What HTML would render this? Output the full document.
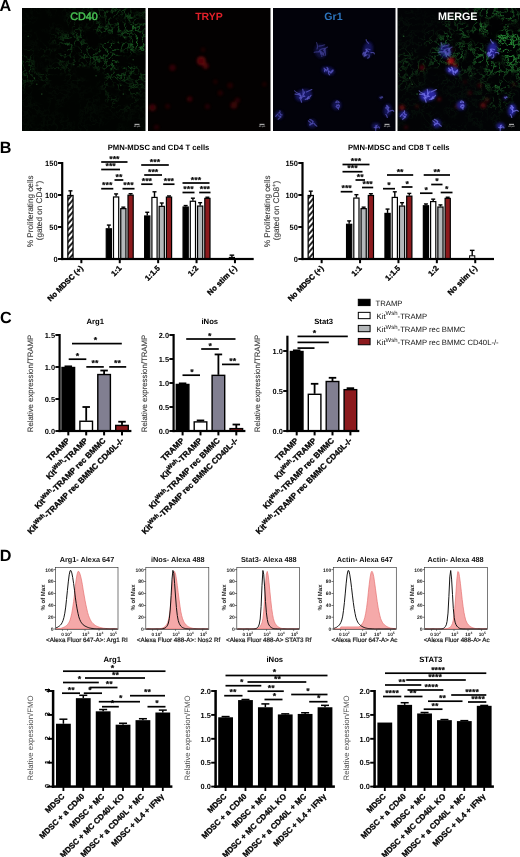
<!DOCTYPE html>
<html lang="en"><head><meta charset="utf-8"><title>Figure</title>
<style>html,body{margin:0;padding:0;background:#fff}svg{display:block}</style></head>
<body>
<svg width="520" height="857" viewBox="0 0 520 857" font-family='"Liberation Sans", sans-serif' text-rendering="geometricPrecision">
<rect width="520" height="857" fill="#fff"/>
<defs><pattern id="hatch" patternUnits="userSpaceOnUse" width="3.9" height="3.9" patternTransform="rotate(-50)"><rect width="3.9" height="3.9" fill="#fff"/><line x1="0" y1="1" x2="3.9" y2="1" stroke="#000" stroke-width="1.7"/></pattern></defs>
<text x="-0.40" y="11.00" font-size="16.2" font-weight="bold" text-anchor="start" fill="#000">A</text>
<defs>
<filter id="b05" x="-50%" y="-50%" width="200%" height="200%"><feGaussianBlur stdDeviation="0.55"/></filter>
<filter id="b08" x="-50%" y="-50%" width="200%" height="200%"><feGaussianBlur stdDeviation="0.8"/></filter>
<filter id="b1" x="-50%" y="-50%" width="200%" height="200%"><feGaussianBlur stdDeviation="0.9"/></filter>
<filter id="b2" x="-50%" y="-50%" width="200%" height="200%"><feGaussianBlur stdDeviation="1.5"/></filter>
<filter id="b3" x="-50%" y="-50%" width="200%" height="200%"><feGaussianBlur stdDeviation="2.6"/></filter>
<filter id="gnet" x="0" y="0" width="100%" height="100%" color-interpolation-filters="sRGB"><feTurbulence type="fractalNoise" baseFrequency="0.16" numOctaves="3" seed="5"/><feColorMatrix type="matrix" values="1 0 0 0 0  1 0 0 0 0  1 0 0 0 0  0 0 0 0 1" result="n1"/><feComponentTransfer in="n1" result="r1"><feFuncR type="table" tableValues="0 0 0 0 0 0 0 0 0 0.45 1 0.45 0 0 0 0 0 0 0 0 0"/><feFuncG type="table" tableValues="0 0 0 0 0 0 0 0 0 0.45 1 0.45 0 0 0 0 0 0 0 0 0"/><feFuncB type="table" tableValues="0 0 0 0 0 0 0 0 0 0.45 1 0.45 0 0 0 0 0 0 0 0 0"/></feComponentTransfer><feTurbulence type="fractalNoise" baseFrequency="0.06" numOctaves="2" seed="11"/><feColorMatrix type="matrix" values="0 1 0 0 0  0 1 0 0 0  0 1 0 0 0  0 0 0 0 1" result="n2"/><feComponentTransfer in="n2" result="r2"><feFuncR type="table" tableValues="0 0 0 0 0.15 0.7 1 1 1 1 1"/><feFuncG type="table" tableValues="0 0 0 0 0.15 0.7 1 1 1 1 1"/><feFuncB type="table" tableValues="0 0 0 0 0.15 0.7 1 1 1 1 1"/></feComponentTransfer><feComposite in="r1" in2="r2" operator="arithmetic" k1="1" k2="0" k3="0" k4="0" result="m"/><feColorMatrix in="m" type="matrix" values="0.2 0 0 0 0  0.74 0 0 0 0  0.28 0 0 0 0  0 0 0 0 1"/><feGaussianBlur stdDeviation="0.75"/></filter>
<radialGradient id="mg1" cx="0.88" cy="0.3" r="0.42"><stop offset="0" stop-color="#fff" stop-opacity="0.85"/><stop offset="0.5" stop-color="#fff" stop-opacity="0.51"/><stop offset="1" stop-color="#fff" stop-opacity="0"/></radialGradient>
<radialGradient id="mg2" cx="0.42" cy="0.36" r="0.26"><stop offset="0" stop-color="#fff" stop-opacity="0.5"/><stop offset="0.5" stop-color="#fff" stop-opacity="0.30"/><stop offset="1" stop-color="#fff" stop-opacity="0"/></radialGradient>
<radialGradient id="mg3" cx="0.08" cy="0.5" r="0.2"><stop offset="0" stop-color="#fff" stop-opacity="0.35"/><stop offset="0.5" stop-color="#fff" stop-opacity="0.21"/><stop offset="1" stop-color="#fff" stop-opacity="0"/></radialGradient>
<radialGradient id="mg4" cx="0.8" cy="0.68" r="0.18"><stop offset="0" stop-color="#fff" stop-opacity="0.4"/><stop offset="0.5" stop-color="#fff" stop-opacity="0.24"/><stop offset="1" stop-color="#fff" stop-opacity="0"/></radialGradient>
<radialGradient id="mg5" cx="0.6" cy="0.1" r="0.3"><stop offset="0" stop-color="#fff" stop-opacity="0.28"/><stop offset="0.5" stop-color="#fff" stop-opacity="0.17"/><stop offset="1" stop-color="#fff" stop-opacity="0"/></radialGradient>
<mask id="gm0" maskUnits="userSpaceOnUse" x="22" y="8" width="123.5" height="123">
<rect x="22" y="8" width="123.5" height="123" fill="#0e0e0e"/>
<rect x="22" y="8" width="123.5" height="123" fill="url(#mg1)"/>
<rect x="22" y="8" width="123.5" height="123" fill="url(#mg2)"/>
<rect x="22" y="8" width="123.5" height="123" fill="url(#mg3)"/>
<rect x="22" y="8" width="123.5" height="123" fill="url(#mg4)"/>
<rect x="22" y="8" width="123.5" height="123" fill="url(#mg5)"/>
</mask>
<mask id="gm3" maskUnits="userSpaceOnUse" x="397.5" y="8" width="122.5" height="123">
<rect x="397.5" y="8" width="122.5" height="123" fill="#0e0e0e"/>
<rect x="397.5" y="8" width="122.5" height="123" fill="url(#mg1)"/>
<rect x="397.5" y="8" width="122.5" height="123" fill="url(#mg2)"/>
<rect x="397.5" y="8" width="122.5" height="123" fill="url(#mg3)"/>
<rect x="397.5" y="8" width="122.5" height="123" fill="url(#mg4)"/>
<rect x="397.5" y="8" width="122.5" height="123" fill="url(#mg5)"/>
</mask>
<clipPath id="cp0"><rect x="22" y="8" width="123.5" height="123"/></clipPath>
<clipPath id="cp1"><rect x="148" y="8" width="122.5" height="123"/></clipPath>
<clipPath id="cp2"><rect x="273" y="8" width="122.5" height="123"/></clipPath>
<clipPath id="cp3"><rect x="397.5" y="8" width="122.5" height="123"/></clipPath>
</defs>
<rect x="22.00" y="8.00" width="123.50" height="123.00" fill="#020402"/>
<rect x="148.00" y="8.00" width="122.50" height="123.00" fill="#030101"/>
<rect x="273.00" y="8.00" width="122.50" height="123.00" fill="#02020a"/>
<rect x="397.50" y="8.00" width="122.50" height="123.00" fill="#030406"/>
<g opacity="0.72"><g mask="url(#gm0)"><rect x="22" y="8" width="123.5" height="123" filter="url(#gnet)"/></g>
<g clip-path="url(#cp0)"><g filter="url(#b05)">
<circle cx="28.2" cy="36.3" r="0.8" fill="#4fcf5f" opacity="0.4"/>
<circle cx="65.2" cy="54.7" r="0.8" fill="#4fcf5f" opacity="0.4"/>
<circle cx="73.9" cy="64.6" r="0.8" fill="#4fcf5f" opacity="0.4"/>
<circle cx="67.7" cy="44.9" r="0.8" fill="#4fcf5f" opacity="0.4"/>
<circle cx="118.3" cy="42.4" r="0.8" fill="#4fcf5f" opacity="0.4"/>
<circle cx="124.5" cy="37.5" r="0.8" fill="#4fcf5f" opacity="0.4"/>
<circle cx="34.4" cy="78.1" r="0.8" fill="#4fcf5f" opacity="0.4"/>
<circle cx="36.8" cy="84.3" r="0.8" fill="#4fcf5f" opacity="0.4"/>
<circle cx="120.8" cy="85.5" r="0.8" fill="#4fcf5f" opacity="0.4"/>
<circle cx="123.3" cy="94.1" r="0.8" fill="#4fcf5f" opacity="0.4"/>
<circle cx="139.3" cy="47.4" r="0.8" fill="#4fcf5f" opacity="0.4"/>
<circle cx="106.0" cy="26.4" r="0.8" fill="#4fcf5f" opacity="0.4"/>
<circle cx="86.2" cy="57.2" r="0.8" fill="#4fcf5f" opacity="0.4"/>
<circle cx="133.2" cy="26.4" r="0.8" fill="#4fcf5f" opacity="0.4"/>
<circle cx="96.1" cy="75.7" r="0.8" fill="#4fcf5f" opacity="0.4"/>
<circle cx="110.9" cy="52.3" r="0.8" fill="#4fcf5f" opacity="0.4"/>
<circle cx="133.2" cy="59.7" r="0.8" fill="#4fcf5f" opacity="0.4"/>
<circle cx="41.8" cy="94.1" r="0.8" fill="#4fcf5f" opacity="0.4"/>
</g></g></g>
<g clip-path="url(#cp1)" opacity="0.8"><g filter="url(#b2)">
<circle cx="201.3" cy="60.9" r="3.40" fill="#d01018" fill-opacity="0.55" stroke="#d81820" stroke-width="1.3" opacity="0.75"/>
<circle cx="205.6" cy="65.8" r="2.21" fill="#d01018" fill-opacity="0.55" stroke="#d81820" stroke-width="1.3" opacity="0.55"/>
<circle cx="172.5" cy="67.7" r="2.38" fill="#d01018" fill-opacity="0.55" stroke="#d81820" stroke-width="1.3" opacity="0.38"/>
<circle cx="152.5" cy="107.6" r="2.55" fill="#d01018" fill-opacity="0.55" stroke="#d81820" stroke-width="1.3" opacity="0.50"/>
<circle cx="189.7" cy="99.0" r="1.87" fill="#d01018" fill-opacity="0.55" stroke="#d81820" stroke-width="1.3" opacity="0.42"/>
<circle cx="233.8" cy="105.2" r="2.55" fill="#d01018" fill-opacity="0.55" stroke="#d81820" stroke-width="1.3" opacity="0.45"/>
<circle cx="237.4" cy="100.2" r="1.87" fill="#d01018" fill-opacity="0.55" stroke="#d81820" stroke-width="1.3" opacity="0.30"/>
<circle cx="220.3" cy="92.9" r="1.87" fill="#d01018" fill-opacity="0.55" stroke="#d81820" stroke-width="1.3" opacity="0.25"/>
<circle cx="167.6" cy="106.4" r="1.70" fill="#d01018" fill-opacity="0.55" stroke="#d81820" stroke-width="1.3" opacity="0.25"/>
<circle cx="156.6" cy="127.3" r="1.87" fill="#d01018" fill-opacity="0.55" stroke="#d81820" stroke-width="1.3" opacity="0.25"/>
<circle cx="207.4" cy="106.4" r="1.87" fill="#d01018" fill-opacity="0.55" stroke="#d81820" stroke-width="1.3" opacity="0.25"/>
<circle cx="230.1" cy="85.5" r="2.04" fill="#d01018" fill-opacity="0.55" stroke="#d81820" stroke-width="1.3" opacity="0.25"/>
<circle cx="203.1" cy="49.8" r="1.53" fill="#d01018" fill-opacity="0.55" stroke="#d81820" stroke-width="1.3" opacity="0.20"/>
<circle cx="264.4" cy="84.3" r="1.53" fill="#d01018" fill-opacity="0.55" stroke="#d81820" stroke-width="1.3" opacity="0.20"/>
<circle cx="215.4" cy="81.8" r="1.53" fill="#d01018" fill-opacity="0.55" stroke="#d81820" stroke-width="1.3" opacity="0.20"/>
</g></g>
<g clip-path="url(#cp2)" opacity="0.95">
<g filter="url(#b2)">
<ellipse cx="320.8" cy="51.0" rx="6.2" ry="7.1" transform="rotate(-20 320.8 51.0)" fill="#2a27a8" opacity="0.36"/>
<ellipse cx="328.1" cy="70.7" rx="6.6" ry="3.8" transform="rotate(15 328.1 70.7)" fill="#2a27a8" opacity="0.60"/>
<ellipse cx="367.9" cy="49.8" rx="4.8" ry="8.1" transform="rotate(10 367.9 49.8)" fill="#2a27a8" opacity="0.54"/>
<ellipse cx="303.6" cy="95.3" rx="8.5" ry="5.7" transform="rotate(-15 303.6 95.3)" fill="#2a27a8" opacity="0.60"/>
<ellipse cx="336.7" cy="105.2" rx="4.6" ry="4.6" transform="rotate(-35 336.7 105.2)" fill="#2a27a8" opacity="0.51"/>
<ellipse cx="279.1" cy="115.0" rx="4.0" ry="4.0" transform="rotate(30 279.1 115.0)" fill="#2a27a8" opacity="0.51"/>
<ellipse cx="312.2" cy="123.6" rx="4.0" ry="4.0" transform="rotate(40 312.2 123.6)" fill="#2a27a8" opacity="0.51"/>
<ellipse cx="387.5" cy="110.1" rx="3.8" ry="6.2" transform="rotate(10 387.5 110.1)" fill="#2a27a8" opacity="0.57"/>
<ellipse cx="375.9" cy="126.1" rx="4.0" ry="3.0" transform="rotate(0 375.9 126.1)" fill="#2a27a8" opacity="0.54"/>
<ellipse cx="380.8" cy="97.8" rx="1.7" ry="1.7" transform="rotate(0 380.8 97.8)" fill="#2a27a8" opacity="0.42"/>
</g><g filter="url(#b05)" fill="none" stroke-linecap="round">
<g transform="translate(320.8 51.0) rotate(-20)" opacity="0.60">
<path d="M-2.9,-3.2 Q-1.0,-4.6 -1.1,-9.3" stroke="#6360d0" stroke-width="1.15" opacity="0.75"/>
<path d="M2.7,0.6 Q6.8,-1.9 7.7,-1.3" stroke="#6360d0" stroke-width="1.15" opacity="0.75"/>
<path d="M-1.7,0.4 Q-6.1,-1.4 -6.7,-1.0" stroke="#6360d0" stroke-width="1.15" opacity="0.75"/>
<path d="M-0.9,5.5 Q0.5,2.1 -0.5,1.7" stroke="#6360d0" stroke-width="1.15" opacity="0.75"/>
<path d="M-0.9,-1.0 Q1.0,-2.1 5.2,-0.9" stroke="#6360d0" stroke-width="1.15" opacity="0.75"/>
<path d="M4.6,-0.6 Q4.0,3.2 3.0,5.6" stroke="#6360d0" stroke-width="1.15" opacity="0.75"/>
<path d="M1.4,5.5 Q1.8,1.7 -0.9,-0.5" stroke="#6360d0" stroke-width="1.15" opacity="0.75"/>
<path d="M-0.9,1.2 Q-0.6,3.0 1.2,4.0" stroke="#6360d0" stroke-width="1.15" opacity="0.75"/>
<path d="M3.7,0.1 Q3.9,1.8 1.5,3.7" stroke="#6360d0" stroke-width="1.15" opacity="0.75"/>
<path d="M-1.1,3.0 Q0.3,-0.6 -2.1,-0.3" stroke="#6360d0" stroke-width="1.15" opacity="0.75"/>
<path d="M-0.0,-5.2 Q2.3,-4.5 5.8,-4.5" stroke="#6360d0" stroke-width="1.15" opacity="0.75"/>
</g>
<g transform="translate(328.1 70.7) rotate(15)" opacity="1.00">
<path d="M0.9,0.0 Q0.5,2.8 2.6,3.6" stroke="#6360d0" stroke-width="1.15" opacity="0.75"/>
<path d="M4.8,-1.3 Q4.1,0.9 3.3,0.9" stroke="#6360d0" stroke-width="1.15" opacity="0.75"/>
<path d="M3.4,1.6 Q2.1,1.6 4.5,-2.0" stroke="#6360d0" stroke-width="1.15" opacity="0.75"/>
<path d="M2.0,0.7 Q-0.1,1.2 -1.0,-1.7" stroke="#6360d0" stroke-width="1.15" opacity="0.75"/>
<path d="M-2.1,-0.4 Q-4.3,-0.7 -3.1,1.8" stroke="#6360d0" stroke-width="1.15" opacity="0.75"/>
<path d="M-2.1,-3.0 Q0.4,-1.9 -1.0,-1.2" stroke="#6360d0" stroke-width="1.15" opacity="0.75"/>
<path d="M-1.5,0.6 Q-3.2,-0.7 -4.6,-1.4" stroke="#6360d0" stroke-width="1.15" opacity="0.75"/>
</g>
<g transform="translate(367.9 49.8) rotate(10)" opacity="0.90">
<path d="M3.5,2.2 Q6.7,1.1 7.1,2.9" stroke="#6360d0" stroke-width="1.15" opacity="0.75"/>
<path d="M-0.4,-6.5 Q-3.5,-8.4 -3.5,-9.7" stroke="#6360d0" stroke-width="1.15" opacity="0.75"/>
<path d="M2.0,4.7 Q3.5,7.9 1.0,8.2" stroke="#6360d0" stroke-width="1.15" opacity="0.75"/>
<path d="M2.1,-0.5 Q-0.2,-1.2 -2.2,-0.2" stroke="#6360d0" stroke-width="1.15" opacity="0.75"/>
<path d="M-0.8,1.0 Q-0.8,3.2 -4.4,4.4" stroke="#6360d0" stroke-width="1.15" opacity="0.75"/>
<path d="M-1.7,0.0 Q0.8,2.3 1.0,1.7" stroke="#6360d0" stroke-width="1.15" opacity="0.75"/>
<path d="M-2.1,4.2 Q-1.1,3.2 -1.4,0.0" stroke="#6360d0" stroke-width="1.15" opacity="0.75"/>
<path d="M-1.9,3.8 Q-1.2,6.4 -2.7,7.5" stroke="#6360d0" stroke-width="1.15" opacity="0.75"/>
<path d="M-1.0,6.2 Q-4.2,4.8 -3.4,3.0" stroke="#6360d0" stroke-width="1.15" opacity="0.75"/>
<path d="M-0.0,4.8 Q-1.6,6.6 -4.4,5.9" stroke="#6360d0" stroke-width="1.15" opacity="0.75"/>
</g>
<g transform="translate(303.6 95.3) rotate(-15)" opacity="1.00">
<path d="M-2.9,2.7 Q-3.7,1.3 -3.3,-2.8" stroke="#6360d0" stroke-width="1.15" opacity="0.75"/>
<path d="M3.6,-2.5 Q6.6,-2.9 9.4,-3.4" stroke="#6360d0" stroke-width="1.15" opacity="0.75"/>
<path d="M3.1,3.6 Q5.9,3.6 7.2,1.9" stroke="#6360d0" stroke-width="1.15" opacity="0.75"/>
<path d="M-0.2,-1.3 Q0.9,-4.0 0.7,-6.0" stroke="#6360d0" stroke-width="1.15" opacity="0.75"/>
<path d="M-4.1,-2.7 Q-7.7,-6.0 -7.5,-6.6" stroke="#6360d0" stroke-width="1.15" opacity="0.75"/>
<path d="M-4.7,1.2 Q-3.6,1.9 -3.7,6.2" stroke="#6360d0" stroke-width="1.15" opacity="0.75"/>
<path d="M-2.3,0.3 Q-1.4,-0.4 0.9,1.4" stroke="#6360d0" stroke-width="1.15" opacity="0.75"/>
<path d="M0.4,0.7 Q-1.2,1.5 -3.7,1.6" stroke="#6360d0" stroke-width="1.15" opacity="0.75"/>
<path d="M0.5,4.4 Q1.7,4.0 4.7,4.4" stroke="#6360d0" stroke-width="1.15" opacity="0.75"/>
<path d="M4.6,2.7 Q4.0,2.2 2.4,4.9" stroke="#6360d0" stroke-width="1.15" opacity="0.75"/>
<path d="M-2.9,-0.6 Q-4.2,-2.3 -8.0,-3.4" stroke="#6360d0" stroke-width="1.15" opacity="0.75"/>
<path d="M1.9,-3.0 Q1.1,-1.5 -0.4,-0.5" stroke="#6360d0" stroke-width="1.15" opacity="0.75"/>
</g>
<g transform="translate(336.7 105.2) rotate(-35)" opacity="0.85">
<path d="M3.6,-1.0 Q3.9,-4.0 1.1,-3.0" stroke="#6360d0" stroke-width="1.15" opacity="0.75"/>
<path d="M1.9,1.5 Q1.3,2.2 -0.2,-0.3" stroke="#6360d0" stroke-width="1.15" opacity="0.75"/>
<path d="M-1.4,1.4 Q0.7,2.4 -0.9,4.4" stroke="#6360d0" stroke-width="1.15" opacity="0.75"/>
<path d="M3.4,-0.9 Q4.1,-1.7 1.0,-2.6" stroke="#6360d0" stroke-width="1.15" opacity="0.75"/>
<path d="M-1.3,0.8 Q-0.4,0.5 2.2,0.4" stroke="#6360d0" stroke-width="1.15" opacity="0.75"/>
<path d="M1.9,1.8 Q1.5,3.6 -1.1,2.9" stroke="#6360d0" stroke-width="1.15" opacity="0.75"/>
</g>
<g transform="translate(279.1 115.0) rotate(30)" opacity="0.85">
<path d="M2.0,0.2 Q2.8,1.2 1.4,4.2" stroke="#6360d0" stroke-width="1.15" opacity="0.75"/>
<path d="M-0.1,0.9 Q1.7,0.7 2.6,0.7" stroke="#6360d0" stroke-width="1.15" opacity="0.75"/>
<path d="M-1.3,-1.7 Q-0.4,-3.7 -1.4,-4.1" stroke="#6360d0" stroke-width="1.15" opacity="0.75"/>
<path d="M-1.4,-0.3 Q-2.0,0.7 -2.3,2.8" stroke="#6360d0" stroke-width="1.15" opacity="0.75"/>
<path d="M-0.1,-2.2 Q1.0,-0.2 2.5,-1.6" stroke="#6360d0" stroke-width="1.15" opacity="0.75"/>
</g>
<g transform="translate(312.2 123.6) rotate(40)" opacity="0.85">
<path d="M1.5,-1.3 Q3.1,-0.8 5.3,-1.0" stroke="#6360d0" stroke-width="1.15" opacity="0.75"/>
<path d="M-0.6,-2.2 Q-3.0,-2.4 -4.6,-1.7" stroke="#6360d0" stroke-width="1.15" opacity="0.75"/>
<path d="M0.6,-0.8 Q-1.7,2.4 -0.5,2.9" stroke="#6360d0" stroke-width="1.15" opacity="0.75"/>
<path d="M-0.6,-1.6 Q0.6,-1.2 -1.4,2.1" stroke="#6360d0" stroke-width="1.15" opacity="0.75"/>
<path d="M-2.0,0.3 Q-4.8,0.6 -4.8,0.3" stroke="#6360d0" stroke-width="1.15" opacity="0.75"/>
</g>
<g transform="translate(387.5 110.1) rotate(10)" opacity="0.95">
<path d="M0.2,-0.9 Q1.6,1.6 0.7,2.7" stroke="#6360d0" stroke-width="1.15" opacity="0.75"/>
<path d="M2.4,0.6 Q5.2,-1.4 6.4,0.1" stroke="#6360d0" stroke-width="1.15" opacity="0.75"/>
<path d="M0.6,-1.4 Q0.2,-4.4 -1.8,-4.5" stroke="#6360d0" stroke-width="1.15" opacity="0.75"/>
<path d="M-0.8,4.7 Q-0.2,4.6 1.1,7.3" stroke="#6360d0" stroke-width="1.15" opacity="0.75"/>
<path d="M-0.4,-0.6 Q-1.0,-1.5 1.8,1.1" stroke="#6360d0" stroke-width="1.15" opacity="0.75"/>
<path d="M-2.2,-1.8 Q-1.7,-3.4 -0.6,-3.4" stroke="#6360d0" stroke-width="1.15" opacity="0.75"/>
<path d="M-1.4,-1.7 Q-1.9,-1.4 1.1,-2.7" stroke="#6360d0" stroke-width="1.15" opacity="0.75"/>
</g>
<g transform="translate(375.9 126.1) rotate(0)" opacity="0.90">
<path d="M1.3,1.4 Q0.0,1.8 -1.7,1.3" stroke="#6360d0" stroke-width="1.15" opacity="0.75"/>
<path d="M-0.2,1.6 Q-0.1,1.5 -0.2,4.4" stroke="#6360d0" stroke-width="1.15" opacity="0.75"/>
<path d="M0.1,1.1 Q0.9,0.8 -0.0,-0.7" stroke="#6360d0" stroke-width="1.15" opacity="0.75"/>
<path d="M2.0,0.9 Q3.2,0.4 3.6,1.9" stroke="#6360d0" stroke-width="1.15" opacity="0.75"/>
<path d="M1.3,-1.0 Q-1.2,1.2 0.0,1.6" stroke="#6360d0" stroke-width="1.15" opacity="0.75"/>
</g>
<g transform="translate(380.8 97.8) rotate(0)" opacity="0.70">
<path d="M0.3,0.1 Q-0.0,-1.6 1.8,-0.3" stroke="#6360d0" stroke-width="1.15" opacity="0.75"/>
<path d="M1.0,-0.2 Q1.7,-1.2 1.4,-1.1" stroke="#6360d0" stroke-width="1.15" opacity="0.75"/>
<path d="M0.1,0.6 Q-0.9,-1.3 -0.9,-0.2" stroke="#6360d0" stroke-width="1.15" opacity="0.75"/>
</g>
</g></g>
<g opacity="1.0"><g mask="url(#gm3)"><rect x="397.5" y="8" width="122.5" height="123" filter="url(#gnet)"/></g>
<g clip-path="url(#cp3)"><g filter="url(#b05)">
<circle cx="403.6" cy="36.3" r="0.8" fill="#4fcf5f" opacity="0.4"/>
<circle cx="440.4" cy="54.7" r="0.8" fill="#4fcf5f" opacity="0.4"/>
<circle cx="448.9" cy="64.6" r="0.8" fill="#4fcf5f" opacity="0.4"/>
<circle cx="442.8" cy="44.9" r="0.8" fill="#4fcf5f" opacity="0.4"/>
<circle cx="493.1" cy="42.4" r="0.8" fill="#4fcf5f" opacity="0.4"/>
<circle cx="499.2" cy="37.5" r="0.8" fill="#4fcf5f" opacity="0.4"/>
<circle cx="409.8" cy="78.1" r="0.8" fill="#4fcf5f" opacity="0.4"/>
<circle cx="412.2" cy="84.3" r="0.8" fill="#4fcf5f" opacity="0.4"/>
<circle cx="495.5" cy="85.5" r="0.8" fill="#4fcf5f" opacity="0.4"/>
<circle cx="497.9" cy="94.1" r="0.8" fill="#4fcf5f" opacity="0.4"/>
<circle cx="513.9" cy="47.4" r="0.8" fill="#4fcf5f" opacity="0.4"/>
<circle cx="480.8" cy="26.4" r="0.8" fill="#4fcf5f" opacity="0.4"/>
<circle cx="461.2" cy="57.2" r="0.8" fill="#4fcf5f" opacity="0.4"/>
<circle cx="507.8" cy="26.4" r="0.8" fill="#4fcf5f" opacity="0.4"/>
<circle cx="471.0" cy="75.7" r="0.8" fill="#4fcf5f" opacity="0.4"/>
<circle cx="485.7" cy="52.3" r="0.8" fill="#4fcf5f" opacity="0.4"/>
<circle cx="507.8" cy="59.7" r="0.8" fill="#4fcf5f" opacity="0.4"/>
<circle cx="417.1" cy="94.1" r="0.8" fill="#4fcf5f" opacity="0.4"/>
</g></g></g>
<g clip-path="url(#cp3)" opacity="1.0"><g filter="url(#b2)">
<circle cx="450.8" cy="60.9" r="3.40" fill="#d01018" fill-opacity="1" stroke="#d81820" stroke-width="0" opacity="0.75"/>
<circle cx="455.1" cy="65.8" r="2.21" fill="#d01018" fill-opacity="1" stroke="#d81820" stroke-width="0" opacity="0.55"/>
<circle cx="422.0" cy="67.7" r="2.38" fill="#d01018" fill-opacity="1" stroke="#d81820" stroke-width="0" opacity="0.38"/>
<circle cx="402.0" cy="107.6" r="2.55" fill="#d01018" fill-opacity="1" stroke="#d81820" stroke-width="0" opacity="0.50"/>
<circle cx="439.1" cy="99.0" r="1.87" fill="#d01018" fill-opacity="1" stroke="#d81820" stroke-width="0" opacity="0.42"/>
<circle cx="483.2" cy="105.2" r="2.55" fill="#d01018" fill-opacity="1" stroke="#d81820" stroke-width="0" opacity="0.45"/>
<circle cx="486.9" cy="100.2" r="1.87" fill="#d01018" fill-opacity="1" stroke="#d81820" stroke-width="0" opacity="0.30"/>
<circle cx="469.8" cy="92.9" r="1.87" fill="#d01018" fill-opacity="1" stroke="#d81820" stroke-width="0" opacity="0.25"/>
<circle cx="417.1" cy="106.4" r="1.70" fill="#d01018" fill-opacity="1" stroke="#d81820" stroke-width="0" opacity="0.25"/>
<circle cx="406.1" cy="127.3" r="1.87" fill="#d01018" fill-opacity="1" stroke="#d81820" stroke-width="0" opacity="0.25"/>
<circle cx="456.9" cy="106.4" r="1.87" fill="#d01018" fill-opacity="1" stroke="#d81820" stroke-width="0" opacity="0.25"/>
<circle cx="479.6" cy="85.5" r="2.04" fill="#d01018" fill-opacity="1" stroke="#d81820" stroke-width="0" opacity="0.25"/>
<circle cx="452.6" cy="49.8" r="1.53" fill="#d01018" fill-opacity="1" stroke="#d81820" stroke-width="0" opacity="0.20"/>
<circle cx="513.9" cy="84.3" r="1.53" fill="#d01018" fill-opacity="1" stroke="#d81820" stroke-width="0" opacity="0.20"/>
<circle cx="464.9" cy="81.8" r="1.53" fill="#d01018" fill-opacity="1" stroke="#d81820" stroke-width="0" opacity="0.20"/>
</g></g>
<g clip-path="url(#cp3)" opacity="1.0">
<g filter="url(#b2)">
<ellipse cx="445.3" cy="51.0" rx="6.2" ry="7.1" transform="rotate(-20 445.3 51.0)" fill="#2a27a8" opacity="0.58"/>
<ellipse cx="452.6" cy="70.7" rx="6.6" ry="3.8" transform="rotate(15 452.6 70.7)" fill="#2a27a8" opacity="0.96"/>
<ellipse cx="492.4" cy="49.8" rx="4.8" ry="8.1" transform="rotate(10 492.4 49.8)" fill="#2a27a8" opacity="0.86"/>
<ellipse cx="428.1" cy="95.3" rx="8.5" ry="5.7" transform="rotate(-15 428.1 95.3)" fill="#2a27a8" opacity="0.96"/>
<ellipse cx="461.2" cy="105.2" rx="4.6" ry="4.6" transform="rotate(-35 461.2 105.2)" fill="#2a27a8" opacity="0.82"/>
<ellipse cx="403.6" cy="115.0" rx="4.0" ry="4.0" transform="rotate(30 403.6 115.0)" fill="#2a27a8" opacity="0.82"/>
<ellipse cx="436.7" cy="123.6" rx="4.0" ry="4.0" transform="rotate(40 436.7 123.6)" fill="#2a27a8" opacity="0.82"/>
<ellipse cx="512.0" cy="110.1" rx="3.8" ry="6.2" transform="rotate(10 512.0 110.1)" fill="#2a27a8" opacity="0.91"/>
<ellipse cx="500.4" cy="126.1" rx="4.0" ry="3.0" transform="rotate(0 500.4 126.1)" fill="#2a27a8" opacity="0.86"/>
<ellipse cx="505.3" cy="97.8" rx="1.7" ry="1.7" transform="rotate(0 505.3 97.8)" fill="#2a27a8" opacity="0.67"/>
</g><g filter="url(#b05)" fill="none" stroke-linecap="round">
<g transform="translate(445.3 51.0) rotate(-20)" opacity="0.60">
<path d="M-2.9,-3.2 Q-1.0,-4.6 -1.1,-9.3" stroke="#7a78ee" stroke-width="1.15" opacity="0.75"/>
<path d="M2.7,0.6 Q6.8,-1.9 7.7,-1.3" stroke="#7a78ee" stroke-width="1.15" opacity="0.75"/>
<path d="M-1.7,0.4 Q-6.1,-1.4 -6.7,-1.0" stroke="#7a78ee" stroke-width="1.15" opacity="0.75"/>
<path d="M-0.9,5.5 Q0.5,2.1 -0.5,1.7" stroke="#7a78ee" stroke-width="1.15" opacity="0.75"/>
<path d="M-0.9,-1.0 Q1.0,-2.1 5.2,-0.9" stroke="#7a78ee" stroke-width="1.15" opacity="0.75"/>
<path d="M4.6,-0.6 Q4.0,3.2 3.0,5.6" stroke="#7a78ee" stroke-width="1.15" opacity="0.75"/>
<path d="M1.4,5.5 Q1.8,1.7 -0.9,-0.5" stroke="#7a78ee" stroke-width="1.15" opacity="0.75"/>
<path d="M-0.9,1.2 Q-0.6,3.0 1.2,4.0" stroke="#7a78ee" stroke-width="1.15" opacity="0.75"/>
<path d="M3.7,0.1 Q3.9,1.8 1.5,3.7" stroke="#7a78ee" stroke-width="1.15" opacity="0.75"/>
<path d="M-1.1,3.0 Q0.3,-0.6 -2.1,-0.3" stroke="#7a78ee" stroke-width="1.15" opacity="0.75"/>
<path d="M-0.0,-5.2 Q2.3,-4.5 5.8,-4.5" stroke="#7a78ee" stroke-width="1.15" opacity="0.75"/>
</g>
<g transform="translate(452.6 70.7) rotate(15)" opacity="1.00">
<path d="M0.9,0.0 Q0.5,2.8 2.6,3.6" stroke="#7a78ee" stroke-width="1.15" opacity="0.75"/>
<path d="M4.8,-1.3 Q4.1,0.9 3.3,0.9" stroke="#7a78ee" stroke-width="1.15" opacity="0.75"/>
<path d="M3.4,1.6 Q2.1,1.6 4.5,-2.0" stroke="#7a78ee" stroke-width="1.15" opacity="0.75"/>
<path d="M2.0,0.7 Q-0.1,1.2 -1.0,-1.7" stroke="#7a78ee" stroke-width="1.15" opacity="0.75"/>
<path d="M-2.1,-0.4 Q-4.3,-0.7 -3.1,1.8" stroke="#7a78ee" stroke-width="1.15" opacity="0.75"/>
<path d="M-2.1,-3.0 Q0.4,-1.9 -1.0,-1.2" stroke="#7a78ee" stroke-width="1.15" opacity="0.75"/>
<path d="M-1.5,0.6 Q-3.2,-0.7 -4.6,-1.4" stroke="#7a78ee" stroke-width="1.15" opacity="0.75"/>
</g>
<g transform="translate(492.4 49.8) rotate(10)" opacity="0.90">
<path d="M3.5,2.2 Q6.7,1.1 7.1,2.9" stroke="#7a78ee" stroke-width="1.15" opacity="0.75"/>
<path d="M-0.4,-6.5 Q-3.5,-8.4 -3.5,-9.7" stroke="#7a78ee" stroke-width="1.15" opacity="0.75"/>
<path d="M2.0,4.7 Q3.5,7.9 1.0,8.2" stroke="#7a78ee" stroke-width="1.15" opacity="0.75"/>
<path d="M2.1,-0.5 Q-0.2,-1.2 -2.2,-0.2" stroke="#7a78ee" stroke-width="1.15" opacity="0.75"/>
<path d="M-0.8,1.0 Q-0.8,3.2 -4.4,4.4" stroke="#7a78ee" stroke-width="1.15" opacity="0.75"/>
<path d="M-1.7,0.0 Q0.8,2.3 1.0,1.7" stroke="#7a78ee" stroke-width="1.15" opacity="0.75"/>
<path d="M-2.1,4.2 Q-1.1,3.2 -1.4,0.0" stroke="#7a78ee" stroke-width="1.15" opacity="0.75"/>
<path d="M-1.9,3.8 Q-1.2,6.4 -2.7,7.5" stroke="#7a78ee" stroke-width="1.15" opacity="0.75"/>
<path d="M-1.0,6.2 Q-4.2,4.8 -3.4,3.0" stroke="#7a78ee" stroke-width="1.15" opacity="0.75"/>
<path d="M-0.0,4.8 Q-1.6,6.6 -4.4,5.9" stroke="#7a78ee" stroke-width="1.15" opacity="0.75"/>
</g>
<g transform="translate(428.1 95.3) rotate(-15)" opacity="1.00">
<path d="M-2.9,2.7 Q-3.7,1.3 -3.3,-2.8" stroke="#7a78ee" stroke-width="1.15" opacity="0.75"/>
<path d="M3.6,-2.5 Q6.6,-2.9 9.4,-3.4" stroke="#7a78ee" stroke-width="1.15" opacity="0.75"/>
<path d="M3.1,3.6 Q5.9,3.6 7.2,1.9" stroke="#7a78ee" stroke-width="1.15" opacity="0.75"/>
<path d="M-0.2,-1.3 Q0.9,-4.0 0.7,-6.0" stroke="#7a78ee" stroke-width="1.15" opacity="0.75"/>
<path d="M-4.1,-2.7 Q-7.7,-6.0 -7.5,-6.6" stroke="#7a78ee" stroke-width="1.15" opacity="0.75"/>
<path d="M-4.7,1.2 Q-3.6,1.9 -3.7,6.2" stroke="#7a78ee" stroke-width="1.15" opacity="0.75"/>
<path d="M-2.3,0.3 Q-1.4,-0.4 0.9,1.4" stroke="#7a78ee" stroke-width="1.15" opacity="0.75"/>
<path d="M0.4,0.7 Q-1.2,1.5 -3.7,1.6" stroke="#7a78ee" stroke-width="1.15" opacity="0.75"/>
<path d="M0.5,4.4 Q1.7,4.0 4.7,4.4" stroke="#7a78ee" stroke-width="1.15" opacity="0.75"/>
<path d="M4.6,2.7 Q4.0,2.2 2.4,4.9" stroke="#7a78ee" stroke-width="1.15" opacity="0.75"/>
<path d="M-2.9,-0.6 Q-4.2,-2.3 -8.0,-3.4" stroke="#7a78ee" stroke-width="1.15" opacity="0.75"/>
<path d="M1.9,-3.0 Q1.1,-1.5 -0.4,-0.5" stroke="#7a78ee" stroke-width="1.15" opacity="0.75"/>
</g>
<g transform="translate(461.2 105.2) rotate(-35)" opacity="0.85">
<path d="M3.6,-1.0 Q3.9,-4.0 1.1,-3.0" stroke="#7a78ee" stroke-width="1.15" opacity="0.75"/>
<path d="M1.9,1.5 Q1.3,2.2 -0.2,-0.3" stroke="#7a78ee" stroke-width="1.15" opacity="0.75"/>
<path d="M-1.4,1.4 Q0.7,2.4 -0.9,4.4" stroke="#7a78ee" stroke-width="1.15" opacity="0.75"/>
<path d="M3.4,-0.9 Q4.1,-1.7 1.0,-2.6" stroke="#7a78ee" stroke-width="1.15" opacity="0.75"/>
<path d="M-1.3,0.8 Q-0.4,0.5 2.2,0.4" stroke="#7a78ee" stroke-width="1.15" opacity="0.75"/>
<path d="M1.9,1.8 Q1.5,3.6 -1.1,2.9" stroke="#7a78ee" stroke-width="1.15" opacity="0.75"/>
</g>
<g transform="translate(403.6 115.0) rotate(30)" opacity="0.85">
<path d="M2.0,0.2 Q2.8,1.2 1.4,4.2" stroke="#7a78ee" stroke-width="1.15" opacity="0.75"/>
<path d="M-0.1,0.9 Q1.7,0.7 2.6,0.7" stroke="#7a78ee" stroke-width="1.15" opacity="0.75"/>
<path d="M-1.3,-1.7 Q-0.4,-3.7 -1.4,-4.1" stroke="#7a78ee" stroke-width="1.15" opacity="0.75"/>
<path d="M-1.4,-0.3 Q-2.0,0.7 -2.3,2.8" stroke="#7a78ee" stroke-width="1.15" opacity="0.75"/>
<path d="M-0.1,-2.2 Q1.0,-0.2 2.5,-1.6" stroke="#7a78ee" stroke-width="1.15" opacity="0.75"/>
</g>
<g transform="translate(436.7 123.6) rotate(40)" opacity="0.85">
<path d="M1.5,-1.3 Q3.1,-0.8 5.3,-1.0" stroke="#7a78ee" stroke-width="1.15" opacity="0.75"/>
<path d="M-0.6,-2.2 Q-3.0,-2.4 -4.6,-1.7" stroke="#7a78ee" stroke-width="1.15" opacity="0.75"/>
<path d="M0.6,-0.8 Q-1.7,2.4 -0.5,2.9" stroke="#7a78ee" stroke-width="1.15" opacity="0.75"/>
<path d="M-0.6,-1.6 Q0.6,-1.2 -1.4,2.1" stroke="#7a78ee" stroke-width="1.15" opacity="0.75"/>
<path d="M-2.0,0.3 Q-4.8,0.6 -4.8,0.3" stroke="#7a78ee" stroke-width="1.15" opacity="0.75"/>
</g>
<g transform="translate(512.0 110.1) rotate(10)" opacity="0.95">
<path d="M0.2,-0.9 Q1.6,1.6 0.7,2.7" stroke="#7a78ee" stroke-width="1.15" opacity="0.75"/>
<path d="M2.4,0.6 Q5.2,-1.4 6.4,0.1" stroke="#7a78ee" stroke-width="1.15" opacity="0.75"/>
<path d="M0.6,-1.4 Q0.2,-4.4 -1.8,-4.5" stroke="#7a78ee" stroke-width="1.15" opacity="0.75"/>
<path d="M-0.8,4.7 Q-0.2,4.6 1.1,7.3" stroke="#7a78ee" stroke-width="1.15" opacity="0.75"/>
<path d="M-0.4,-0.6 Q-1.0,-1.5 1.8,1.1" stroke="#7a78ee" stroke-width="1.15" opacity="0.75"/>
<path d="M-2.2,-1.8 Q-1.7,-3.4 -0.6,-3.4" stroke="#7a78ee" stroke-width="1.15" opacity="0.75"/>
<path d="M-1.4,-1.7 Q-1.9,-1.4 1.1,-2.7" stroke="#7a78ee" stroke-width="1.15" opacity="0.75"/>
</g>
<g transform="translate(500.4 126.1) rotate(0)" opacity="0.90">
<path d="M1.3,1.4 Q0.0,1.8 -1.7,1.3" stroke="#7a78ee" stroke-width="1.15" opacity="0.75"/>
<path d="M-0.2,1.6 Q-0.1,1.5 -0.2,4.4" stroke="#7a78ee" stroke-width="1.15" opacity="0.75"/>
<path d="M0.1,1.1 Q0.9,0.8 -0.0,-0.7" stroke="#7a78ee" stroke-width="1.15" opacity="0.75"/>
<path d="M2.0,0.9 Q3.2,0.4 3.6,1.9" stroke="#7a78ee" stroke-width="1.15" opacity="0.75"/>
<path d="M1.3,-1.0 Q-1.2,1.2 0.0,1.6" stroke="#7a78ee" stroke-width="1.15" opacity="0.75"/>
</g>
<g transform="translate(505.3 97.8) rotate(0)" opacity="0.70">
<path d="M0.3,0.1 Q-0.0,-1.6 1.8,-0.3" stroke="#7a78ee" stroke-width="1.15" opacity="0.75"/>
<path d="M1.0,-0.2 Q1.7,-1.2 1.4,-1.1" stroke="#7a78ee" stroke-width="1.15" opacity="0.75"/>
<path d="M0.1,0.6 Q-0.9,-1.3 -0.9,-0.2" stroke="#7a78ee" stroke-width="1.15" opacity="0.75"/>
</g>
</g></g>
<text x="84.05" y="20.40" font-size="10.8" font-weight="normal" text-anchor="middle" fill="#46c052" stroke="#46c052" stroke-width="0.45">CD40</text>
<text x="208.95" y="20.40" font-size="10.5" font-weight="bold" text-anchor="middle" fill="#e0202a">TRYP</text>
<text x="333.45" y="20.40" font-size="10.6" font-weight="bold" text-anchor="middle" fill="#2d74bd">Gr1</text>
<text x="457.75" y="20.40" font-size="10.8" font-weight="bold" text-anchor="middle" fill="#fff">MERGE</text>
<rect x="134.50" y="123.85" width="5.00" height="0.90" fill="#ddd"/>
<text x="137.00" y="127.30" font-size="2.4" font-weight="normal" text-anchor="middle" fill="#ccc">20 µm</text>
<rect x="259.50" y="123.85" width="5.00" height="0.90" fill="#ddd"/>
<text x="262.00" y="127.30" font-size="2.4" font-weight="normal" text-anchor="middle" fill="#ccc">20 µm</text>
<rect x="384.50" y="123.85" width="5.00" height="0.90" fill="#ddd"/>
<text x="387.00" y="127.30" font-size="2.4" font-weight="normal" text-anchor="middle" fill="#ccc">20 µm</text>
<rect x="509.00" y="123.85" width="5.00" height="0.90" fill="#ddd"/>
<text x="511.50" y="127.30" font-size="2.4" font-weight="normal" text-anchor="middle" fill="#ccc">20 µm</text>
<text x="-0.20" y="153.30" font-size="16.2" font-weight="bold" text-anchor="start" fill="#000">B</text>
<rect x="69.75" y="190.84" width="1.40" height="4.16" fill="#000"/>
<rect x="68.45" y="190.14" width="4.00" height="1.40" fill="#000"/>
<rect x="67.85" y="195.50" width="5.20" height="63.50" fill="url(#hatch)" stroke="#000" stroke-width="1.25"/>
<rect x="108.15" y="225.08" width="1.40" height="3.20" fill="#000"/>
<rect x="106.85" y="224.38" width="4.00" height="1.40" fill="#000"/>
<rect x="106.25" y="228.78" width="5.20" height="30.22" fill="#000" stroke="#000" stroke-width="1.2"/>
<rect x="115.40" y="193.91" width="1.40" height="2.56" fill="#000"/>
<rect x="114.10" y="193.21" width="4.00" height="1.40" fill="#000"/>
<rect x="113.50" y="196.97" width="5.20" height="62.03" fill="#fff" stroke="#000" stroke-width="1.2"/>
<rect x="122.65" y="207.16" width="1.40" height="0.96" fill="#000"/>
<rect x="121.35" y="206.46" width="4.00" height="1.40" fill="#000"/>
<rect x="120.75" y="208.62" width="5.20" height="50.38" fill="#b4b7b9" stroke="#000" stroke-width="1.2"/>
<rect x="129.90" y="193.72" width="1.40" height="0.96" fill="#000"/>
<rect x="128.60" y="193.02" width="4.00" height="1.40" fill="#000"/>
<rect x="128.00" y="195.18" width="5.20" height="63.82" fill="#8c1a1d" stroke="#000" stroke-width="1.2"/>
<rect x="146.55" y="212.28" width="1.40" height="3.20" fill="#000"/>
<rect x="145.25" y="211.58" width="4.00" height="1.40" fill="#000"/>
<rect x="144.65" y="215.98" width="5.20" height="43.02" fill="#000" stroke="#000" stroke-width="1.2"/>
<rect x="153.80" y="191.80" width="1.40" height="5.12" fill="#000"/>
<rect x="152.50" y="191.10" width="4.00" height="1.40" fill="#000"/>
<rect x="151.90" y="197.42" width="5.20" height="61.58" fill="#fff" stroke="#000" stroke-width="1.2"/>
<rect x="161.05" y="203.00" width="1.40" height="2.88" fill="#000"/>
<rect x="159.75" y="202.30" width="4.00" height="1.40" fill="#000"/>
<rect x="159.15" y="206.38" width="5.20" height="52.62" fill="#b4b7b9" stroke="#000" stroke-width="1.2"/>
<rect x="168.30" y="195.96" width="1.40" height="0.64" fill="#000"/>
<rect x="167.00" y="195.26" width="4.00" height="1.40" fill="#000"/>
<rect x="166.40" y="197.10" width="5.20" height="61.90" fill="#8c1a1d" stroke="#000" stroke-width="1.2"/>
<rect x="184.95" y="205.56" width="1.40" height="0.96" fill="#000"/>
<rect x="183.65" y="204.86" width="4.00" height="1.40" fill="#000"/>
<rect x="183.05" y="207.02" width="5.20" height="51.98" fill="#000" stroke="#000" stroke-width="1.2"/>
<rect x="192.20" y="198.20" width="1.40" height="2.56" fill="#000"/>
<rect x="190.90" y="197.50" width="4.00" height="1.40" fill="#000"/>
<rect x="190.30" y="201.26" width="5.20" height="57.74" fill="#fff" stroke="#000" stroke-width="1.2"/>
<rect x="199.45" y="202.68" width="1.40" height="2.88" fill="#000"/>
<rect x="198.15" y="201.98" width="4.00" height="1.40" fill="#000"/>
<rect x="197.55" y="206.06" width="5.20" height="52.94" fill="#b4b7b9" stroke="#000" stroke-width="1.2"/>
<rect x="206.70" y="197.24" width="1.40" height="0.64" fill="#000"/>
<rect x="205.40" y="196.54" width="4.00" height="1.40" fill="#000"/>
<rect x="204.80" y="198.38" width="5.20" height="60.62" fill="#8c1a1d" stroke="#000" stroke-width="1.2"/>
<rect x="231.20" y="255.16" width="1.40" height="2.24" fill="#000"/>
<rect x="229.60" y="254.46" width="4.60" height="1.40" fill="#000"/>
<rect x="229.30" y="257.40" width="5.20" height="1.60" fill="#000" stroke="#000" stroke-width="1.0"/>
<rect x="61.10" y="162.00" width="2.20" height="98.10" fill="#000"/>
<rect x="61.10" y="257.90" width="192.60" height="2.20" fill="#000"/>
<rect x="58.00" y="258.05" width="4.20" height="1.90" fill="#000"/>
<text x="57.60" y="261.70" font-size="7.5" font-weight="bold" text-anchor="end" fill="#000">0</text>
<rect x="58.00" y="226.05" width="4.20" height="1.90" fill="#000"/>
<text x="57.60" y="229.70" font-size="7.5" font-weight="bold" text-anchor="end" fill="#000">50</text>
<rect x="58.00" y="194.05" width="4.20" height="1.90" fill="#000"/>
<text x="57.60" y="197.70" font-size="7.5" font-weight="bold" text-anchor="end" fill="#000">100</text>
<rect x="58.00" y="162.05" width="4.20" height="1.90" fill="#000"/>
<text x="57.60" y="165.70" font-size="7.5" font-weight="bold" text-anchor="end" fill="#000">150</text>
<rect x="80.35" y="259.00" width="2.00" height="4.20" fill="#000"/>
<rect x="118.75" y="259.00" width="2.00" height="4.20" fill="#000"/>
<rect x="157.15" y="259.00" width="2.00" height="4.20" fill="#000"/>
<rect x="195.55" y="259.00" width="2.00" height="4.20" fill="#000"/>
<rect x="233.95" y="259.00" width="2.00" height="4.20" fill="#000"/>
<text transform="translate(83.65,268.80) rotate(-45)" font-size="7.7" font-weight="bold" text-anchor="end" fill="#000" stroke="#000" stroke-width="0.3">No MDSC (+)</text>
<text transform="translate(122.05,268.80) rotate(-45)" font-size="7.7" font-weight="bold" text-anchor="end" fill="#000" stroke="#000" stroke-width="0.3">1:1</text>
<text transform="translate(160.45,268.80) rotate(-45)" font-size="7.7" font-weight="bold" text-anchor="end" fill="#000" stroke="#000" stroke-width="0.3">1:1.5</text>
<text transform="translate(198.85,268.80) rotate(-45)" font-size="7.7" font-weight="bold" text-anchor="end" fill="#000" stroke="#000" stroke-width="0.3">1:2</text>
<text transform="translate(237.25,268.80) rotate(-45)" font-size="7.7" font-weight="bold" text-anchor="end" fill="#000" stroke="#000" stroke-width="0.3">No stim (-)</text>
<text x="158.50" y="150.30" font-size="7.7" font-weight="bold" text-anchor="middle" fill="#000">PMN-MDSC and CD4 T cells</text>
<text transform="translate(33.00,211.30) rotate(-90)" font-size="8.2" font-weight="normal" text-anchor="middle" fill="#383838" stroke="#383838" stroke-width="0.12">% Proliferating cells</text>
<text transform="translate(42.00,210.50) rotate(-90)" font-size="8.2" font-weight="normal" text-anchor="middle" fill="#383838" stroke="#383838" stroke-width="0.12">(gated on CD4<tspan font-size="6" dy="-3.3">+</tspan><tspan dy="3.3">)</tspan></text>
<rect x="101.20" y="161.15" width="26.30" height="1.70" fill="#000"/>
<text x="114.35" y="161.50" font-size="8.8" font-weight="bold" text-anchor="middle" fill="#000" stroke="#000" stroke-width="0.15">***</text>
<rect x="101.20" y="168.65" width="18.80" height="1.70" fill="#000"/>
<text x="110.60" y="169.00" font-size="8.8" font-weight="bold" text-anchor="middle" fill="#000" stroke="#000" stroke-width="0.15">***</text>
<rect x="114.50" y="179.15" width="8.80" height="1.70" fill="#000"/>
<text x="118.90" y="179.50" font-size="8.8" font-weight="bold" text-anchor="middle" fill="#000" stroke="#000" stroke-width="0.15">**</text>
<rect x="101.20" y="187.85" width="12.10" height="1.70" fill="#000"/>
<text x="107.25" y="188.20" font-size="8.8" font-weight="bold" text-anchor="middle" fill="#000" stroke="#000" stroke-width="0.15">***</text>
<rect x="122.50" y="187.85" width="12.00" height="1.70" fill="#000"/>
<text x="128.50" y="188.20" font-size="8.8" font-weight="bold" text-anchor="middle" fill="#000" stroke="#000" stroke-width="0.15">***</text>
<rect x="141.20" y="164.15" width="27.60" height="1.70" fill="#000"/>
<text x="155.00" y="164.50" font-size="8.8" font-weight="bold" text-anchor="middle" fill="#000" stroke="#000" stroke-width="0.15">***</text>
<rect x="144.20" y="174.15" width="17.80" height="1.70" fill="#000"/>
<text x="153.10" y="174.50" font-size="8.8" font-weight="bold" text-anchor="middle" fill="#000" stroke="#000" stroke-width="0.15">***</text>
<rect x="141.20" y="183.35" width="11.30" height="1.70" fill="#000"/>
<text x="146.85" y="183.70" font-size="8.8" font-weight="bold" text-anchor="middle" fill="#000" stroke="#000" stroke-width="0.15">***</text>
<rect x="163.20" y="183.35" width="11.30" height="1.70" fill="#000"/>
<text x="168.85" y="183.70" font-size="8.8" font-weight="bold" text-anchor="middle" fill="#000" stroke="#000" stroke-width="0.15">***</text>
<rect x="182.50" y="182.15" width="27.00" height="1.70" fill="#000"/>
<text x="196.00" y="182.50" font-size="8.8" font-weight="bold" text-anchor="middle" fill="#000" stroke="#000" stroke-width="0.15">***</text>
<rect x="182.50" y="191.65" width="12.00" height="1.70" fill="#000"/>
<text x="188.50" y="192.00" font-size="8.8" font-weight="bold" text-anchor="middle" fill="#000" stroke="#000" stroke-width="0.15">***</text>
<rect x="199.20" y="191.65" width="11.30" height="1.70" fill="#000"/>
<text x="204.85" y="192.00" font-size="8.8" font-weight="bold" text-anchor="middle" fill="#000" stroke="#000" stroke-width="0.15">***</text>
<rect x="310.05" y="191.16" width="1.40" height="3.84" fill="#000"/>
<rect x="308.75" y="190.46" width="4.00" height="1.40" fill="#000"/>
<rect x="308.15" y="195.50" width="5.20" height="63.50" fill="url(#hatch)" stroke="#000" stroke-width="1.25"/>
<rect x="348.45" y="220.92" width="1.40" height="2.88" fill="#000"/>
<rect x="347.15" y="220.22" width="4.00" height="1.40" fill="#000"/>
<rect x="346.55" y="224.30" width="5.20" height="34.70" fill="#000" stroke="#000" stroke-width="1.2"/>
<rect x="355.70" y="194.68" width="1.40" height="2.88" fill="#000"/>
<rect x="354.40" y="193.98" width="4.00" height="1.40" fill="#000"/>
<rect x="353.80" y="198.06" width="5.20" height="60.94" fill="#fff" stroke="#000" stroke-width="1.2"/>
<rect x="362.95" y="207.16" width="1.40" height="0.96" fill="#000"/>
<rect x="361.65" y="206.46" width="4.00" height="1.40" fill="#000"/>
<rect x="361.05" y="208.62" width="5.20" height="50.38" fill="#b4b7b9" stroke="#000" stroke-width="1.2"/>
<rect x="370.20" y="193.72" width="1.40" height="1.28" fill="#000"/>
<rect x="368.90" y="193.02" width="4.00" height="1.40" fill="#000"/>
<rect x="368.30" y="195.50" width="5.20" height="63.50" fill="#8c1a1d" stroke="#000" stroke-width="1.2"/>
<rect x="386.85" y="209.08" width="1.40" height="3.84" fill="#000"/>
<rect x="385.55" y="208.38" width="4.00" height="1.40" fill="#000"/>
<rect x="384.95" y="213.42" width="5.20" height="45.58" fill="#000" stroke="#000" stroke-width="1.2"/>
<rect x="394.10" y="191.80" width="1.40" height="5.12" fill="#000"/>
<rect x="392.80" y="191.10" width="4.00" height="1.40" fill="#000"/>
<rect x="392.20" y="197.42" width="5.20" height="61.58" fill="#fff" stroke="#000" stroke-width="1.2"/>
<rect x="401.35" y="202.68" width="1.40" height="2.88" fill="#000"/>
<rect x="400.05" y="201.98" width="4.00" height="1.40" fill="#000"/>
<rect x="399.45" y="206.06" width="5.20" height="52.94" fill="#b4b7b9" stroke="#000" stroke-width="1.2"/>
<rect x="408.60" y="193.40" width="1.40" height="2.24" fill="#000"/>
<rect x="407.30" y="192.70" width="4.00" height="1.40" fill="#000"/>
<rect x="406.70" y="196.14" width="5.20" height="62.86" fill="#8c1a1d" stroke="#000" stroke-width="1.2"/>
<rect x="425.25" y="203.96" width="1.40" height="1.28" fill="#000"/>
<rect x="423.95" y="203.26" width="4.00" height="1.40" fill="#000"/>
<rect x="423.35" y="205.74" width="5.20" height="53.26" fill="#000" stroke="#000" stroke-width="1.2"/>
<rect x="432.50" y="199.16" width="1.40" height="1.92" fill="#000"/>
<rect x="431.20" y="198.46" width="4.00" height="1.40" fill="#000"/>
<rect x="430.60" y="201.58" width="5.20" height="57.42" fill="#fff" stroke="#000" stroke-width="1.2"/>
<rect x="439.75" y="204.92" width="1.40" height="1.60" fill="#000"/>
<rect x="438.45" y="204.22" width="4.00" height="1.40" fill="#000"/>
<rect x="437.85" y="207.02" width="5.20" height="51.98" fill="#b4b7b9" stroke="#000" stroke-width="1.2"/>
<rect x="447.00" y="197.24" width="1.40" height="0.64" fill="#000"/>
<rect x="445.70" y="196.54" width="4.00" height="1.40" fill="#000"/>
<rect x="445.10" y="198.38" width="5.20" height="60.62" fill="#8c1a1d" stroke="#000" stroke-width="1.2"/>
<rect x="471.50" y="250.36" width="1.40" height="5.44" fill="#000"/>
<rect x="469.90" y="249.66" width="4.60" height="1.40" fill="#000"/>
<rect x="469.60" y="255.80" width="5.20" height="3.20" fill="#fff" stroke="#000" stroke-width="1.0"/>
<rect x="301.40" y="162.00" width="2.20" height="98.10" fill="#000"/>
<rect x="301.40" y="257.90" width="192.60" height="2.20" fill="#000"/>
<rect x="298.30" y="258.05" width="4.20" height="1.90" fill="#000"/>
<text x="297.90" y="261.70" font-size="7.5" font-weight="bold" text-anchor="end" fill="#000">0</text>
<rect x="298.30" y="226.05" width="4.20" height="1.90" fill="#000"/>
<text x="297.90" y="229.70" font-size="7.5" font-weight="bold" text-anchor="end" fill="#000">50</text>
<rect x="298.30" y="194.05" width="4.20" height="1.90" fill="#000"/>
<text x="297.90" y="197.70" font-size="7.5" font-weight="bold" text-anchor="end" fill="#000">100</text>
<rect x="298.30" y="162.05" width="4.20" height="1.90" fill="#000"/>
<text x="297.90" y="165.70" font-size="7.5" font-weight="bold" text-anchor="end" fill="#000">150</text>
<rect x="320.65" y="259.00" width="2.00" height="4.20" fill="#000"/>
<rect x="359.05" y="259.00" width="2.00" height="4.20" fill="#000"/>
<rect x="397.45" y="259.00" width="2.00" height="4.20" fill="#000"/>
<rect x="435.85" y="259.00" width="2.00" height="4.20" fill="#000"/>
<rect x="474.25" y="259.00" width="2.00" height="4.20" fill="#000"/>
<text transform="translate(323.95,268.80) rotate(-45)" font-size="7.7" font-weight="bold" text-anchor="end" fill="#000" stroke="#000" stroke-width="0.3">No MDSC (+)</text>
<text transform="translate(362.35,268.80) rotate(-45)" font-size="7.7" font-weight="bold" text-anchor="end" fill="#000" stroke="#000" stroke-width="0.3">1:1</text>
<text transform="translate(400.75,268.80) rotate(-45)" font-size="7.7" font-weight="bold" text-anchor="end" fill="#000" stroke="#000" stroke-width="0.3">1:1.5</text>
<text transform="translate(439.15,268.80) rotate(-45)" font-size="7.7" font-weight="bold" text-anchor="end" fill="#000" stroke="#000" stroke-width="0.3">1:2</text>
<text transform="translate(477.55,268.80) rotate(-45)" font-size="7.7" font-weight="bold" text-anchor="end" fill="#000" stroke="#000" stroke-width="0.3">No stim (-)</text>
<text x="398.80" y="150.30" font-size="7.7" font-weight="bold" text-anchor="middle" fill="#000">PMN-MDSC and CD8 T cells</text>
<text transform="translate(270.20,211.30) rotate(-90)" font-size="8.2" font-weight="normal" text-anchor="middle" fill="#383838" stroke="#383838" stroke-width="0.12">% Proliferating cells</text>
<text transform="translate(279.20,210.50) rotate(-90)" font-size="8.2" font-weight="normal" text-anchor="middle" fill="#383838" stroke="#383838" stroke-width="0.12">(gated on CD8<tspan font-size="6" dy="-3.3">+</tspan><tspan dy="3.3">)</tspan></text>
<rect x="342.50" y="163.65" width="27.00" height="1.70" fill="#000"/>
<text x="356.00" y="164.00" font-size="8.8" font-weight="bold" text-anchor="middle" fill="#000" stroke="#000" stroke-width="0.15">***</text>
<rect x="342.50" y="170.85" width="20.00" height="1.70" fill="#000"/>
<text x="352.50" y="171.20" font-size="8.8" font-weight="bold" text-anchor="middle" fill="#000" stroke="#000" stroke-width="0.15">***</text>
<rect x="355.50" y="179.15" width="9.50" height="1.70" fill="#000"/>
<text x="360.25" y="179.50" font-size="8.8" font-weight="bold" text-anchor="middle" fill="#000" stroke="#000" stroke-width="0.15">**</text>
<rect x="362.00" y="186.65" width="11.20" height="1.70" fill="#000"/>
<text x="367.60" y="187.00" font-size="8.8" font-weight="bold" text-anchor="middle" fill="#000" stroke="#000" stroke-width="0.15">***</text>
<rect x="340.70" y="190.85" width="11.80" height="1.70" fill="#000"/>
<text x="346.60" y="191.20" font-size="8.8" font-weight="bold" text-anchor="middle" fill="#000" stroke="#000" stroke-width="0.15">***</text>
<rect x="387.00" y="174.15" width="26.20" height="1.70" fill="#000"/>
<text x="400.10" y="174.50" font-size="8.8" font-weight="bold" text-anchor="middle" fill="#000" stroke="#000" stroke-width="0.15">**</text>
<rect x="383.00" y="187.85" width="12.00" height="1.70" fill="#000"/>
<text x="389.00" y="188.20" font-size="8.8" font-weight="bold" text-anchor="middle" fill="#000" stroke="#000" stroke-width="0.15">*</text>
<rect x="401.70" y="186.15" width="10.80" height="1.70" fill="#000"/>
<text x="407.10" y="186.50" font-size="8.8" font-weight="bold" text-anchor="middle" fill="#000" stroke="#000" stroke-width="0.15">*</text>
<rect x="423.70" y="174.15" width="26.30" height="1.70" fill="#000"/>
<text x="436.85" y="174.50" font-size="8.8" font-weight="bold" text-anchor="middle" fill="#000" stroke="#000" stroke-width="0.15">**</text>
<rect x="431.20" y="183.65" width="11.30" height="1.70" fill="#000"/>
<text x="436.85" y="184.00" font-size="8.8" font-weight="bold" text-anchor="middle" fill="#000" stroke="#000" stroke-width="0.15">*</text>
<rect x="420.00" y="192.35" width="12.50" height="1.70" fill="#000"/>
<text x="426.25" y="192.70" font-size="8.8" font-weight="bold" text-anchor="middle" fill="#000" stroke="#000" stroke-width="0.15">*</text>
<rect x="440.70" y="191.65" width="11.80" height="1.70" fill="#000"/>
<text x="446.60" y="192.00" font-size="8.8" font-weight="bold" text-anchor="middle" fill="#000" stroke="#000" stroke-width="0.15">*</text>
<text x="0.00" y="322.60" font-size="16.2" font-weight="bold" text-anchor="start" fill="#000">C</text>
<rect x="67.40" y="366.36" width="1.80" height="0.64" fill="#000"/>
<rect x="64.55" y="365.46" width="7.50" height="1.80" fill="#000"/>
<rect x="62.00" y="367.50" width="12.60" height="63.50" fill="#000" stroke="#000" stroke-width="1.4"/>
<rect x="67.30" y="431.00" width="2.00" height="4.40" fill="#000"/>
<text transform="translate(70.40,441.20) rotate(-45)" font-size="8.1" font-weight="bold" text-anchor="end" fill="#000" stroke="#000" stroke-width="0.3">TRAMP</text>
<rect x="85.30" y="407.00" width="1.80" height="13.76" fill="#000"/>
<rect x="82.45" y="406.10" width="7.50" height="1.80" fill="#000"/>
<rect x="79.90" y="421.26" width="12.60" height="9.74" fill="#fff" stroke="#000" stroke-width="1.4"/>
<rect x="85.20" y="431.00" width="2.00" height="4.40" fill="#000"/>
<text transform="translate(88.30,441.20) rotate(-45)" font-size="8.1" font-weight="bold" text-anchor="end" fill="#000" stroke="#000" stroke-width="0.3">Kit<tspan font-size="6" dy="-3.2">Wsh</tspan><tspan dy="3.2">-</tspan>TRAMP</text>
<rect x="103.20" y="370.52" width="1.80" height="3.52" fill="#000"/>
<rect x="100.35" y="369.62" width="7.50" height="1.80" fill="#000"/>
<rect x="97.80" y="374.54" width="12.60" height="56.46" fill="#817f91" stroke="#000" stroke-width="1.4"/>
<rect x="103.10" y="431.00" width="2.00" height="4.40" fill="#000"/>
<text transform="translate(106.20,441.20) rotate(-45)" font-size="8.1" font-weight="bold" text-anchor="end" fill="#000" stroke="#000" stroke-width="0.3">Kit<tspan font-size="6" dy="-3.2">Wsh</tspan><tspan dy="3.2">-</tspan>TRAMP rec BMMC</text>
<rect x="121.10" y="421.72" width="1.80" height="3.20" fill="#000"/>
<rect x="118.25" y="420.82" width="7.50" height="1.80" fill="#000"/>
<rect x="115.70" y="425.42" width="12.60" height="5.58" fill="#8c1a1d" stroke="#000" stroke-width="1.4"/>
<rect x="121.00" y="431.00" width="2.00" height="4.40" fill="#000"/>
<text transform="translate(124.10,441.20) rotate(-45)" font-size="8.1" font-weight="bold" text-anchor="end" fill="#000" stroke="#000" stroke-width="0.3">Kit<tspan font-size="6" dy="-3.2">Wsh</tspan><tspan dy="3.2">-</tspan>TRAMP rec BMMC CD40L-/-</text>
<rect x="58.50" y="334.00" width="2.20" height="98.10" fill="#000"/>
<rect x="58.50" y="429.90" width="72.90" height="2.20" fill="#000"/>
<rect x="55.40" y="430.05" width="4.20" height="1.90" fill="#000"/>
<text x="55.00" y="433.70" font-size="7.4" font-weight="bold" text-anchor="end" fill="#000">0.0</text>
<rect x="55.40" y="398.05" width="4.20" height="1.90" fill="#000"/>
<text x="55.00" y="401.70" font-size="7.4" font-weight="bold" text-anchor="end" fill="#000">0.5</text>
<rect x="55.40" y="366.05" width="4.20" height="1.90" fill="#000"/>
<text x="55.00" y="369.70" font-size="7.4" font-weight="bold" text-anchor="end" fill="#000">1.0</text>
<rect x="55.40" y="334.05" width="4.20" height="1.90" fill="#000"/>
<text x="55.00" y="337.70" font-size="7.4" font-weight="bold" text-anchor="end" fill="#000">1.5</text>
<text x="95.20" y="324.00" font-size="7.7" font-weight="bold" text-anchor="middle" fill="#000">Arg1</text>
<text transform="translate(32.60,383.50) rotate(-90)" font-size="7.8" font-weight="normal" text-anchor="middle" fill="#383838" stroke="#383838" stroke-width="0.12">Relative expression/TRAMP</text>
<rect x="72.00" y="342.75" width="49.80" height="1.70" fill="#000"/>
<text x="95.40" y="343.10" font-size="8.8" font-weight="bold" text-anchor="middle" fill="#000" stroke="#000" stroke-width="0.15">*</text>
<rect x="68.70" y="358.35" width="17.60" height="1.70" fill="#000"/>
<text x="77.50" y="358.70" font-size="8.8" font-weight="bold" text-anchor="middle" fill="#000" stroke="#000" stroke-width="0.15">*</text>
<rect x="86.30" y="366.05" width="17.50" height="1.70" fill="#000"/>
<text x="95.00" y="366.40" font-size="8.8" font-weight="bold" text-anchor="middle" fill="#000" stroke="#000" stroke-width="0.15">**</text>
<rect x="109.20" y="366.05" width="17.00" height="1.70" fill="#000"/>
<text x="117.50" y="366.40" font-size="8.8" font-weight="bold" text-anchor="middle" fill="#000" stroke="#000" stroke-width="0.15">**</text>
<rect x="181.70" y="383.38" width="1.80" height="0.58" fill="#000"/>
<rect x="178.85" y="382.48" width="7.50" height="1.80" fill="#000"/>
<rect x="176.30" y="384.46" width="12.60" height="46.54" fill="#000" stroke="#000" stroke-width="1.4"/>
<rect x="181.60" y="431.00" width="2.00" height="4.40" fill="#000"/>
<text transform="translate(184.70,441.20) rotate(-45)" font-size="8.1" font-weight="bold" text-anchor="end" fill="#000" stroke="#000" stroke-width="0.3">TRAMP</text>
<rect x="199.60" y="420.44" width="1.80" height="0.96" fill="#000"/>
<rect x="196.75" y="419.54" width="7.50" height="1.80" fill="#000"/>
<rect x="194.20" y="421.90" width="12.60" height="9.10" fill="#fff" stroke="#000" stroke-width="1.4"/>
<rect x="199.50" y="431.00" width="2.00" height="4.40" fill="#000"/>
<text transform="translate(202.60,441.20) rotate(-45)" font-size="8.1" font-weight="bold" text-anchor="end" fill="#000" stroke="#000" stroke-width="0.3">Kit<tspan font-size="6" dy="-3.2">Wsh</tspan><tspan dy="3.2">-</tspan>TRAMP</text>
<rect x="217.50" y="354.44" width="1.80" height="20.40" fill="#000"/>
<rect x="214.65" y="353.54" width="7.50" height="1.80" fill="#000"/>
<rect x="212.10" y="375.34" width="12.60" height="55.66" fill="#817f91" stroke="#000" stroke-width="1.4"/>
<rect x="217.40" y="431.00" width="2.00" height="4.40" fill="#000"/>
<text transform="translate(220.50,441.20) rotate(-45)" font-size="8.1" font-weight="bold" text-anchor="end" fill="#000" stroke="#000" stroke-width="0.3">Kit<tspan font-size="6" dy="-3.2">Wsh</tspan><tspan dy="3.2">-</tspan>TRAMP rec BMMC</text>
<rect x="235.40" y="424.52" width="1.80" height="3.60" fill="#000"/>
<rect x="232.55" y="423.62" width="7.50" height="1.80" fill="#000"/>
<rect x="230.00" y="428.62" width="12.60" height="2.38" fill="#8c1a1d" stroke="#000" stroke-width="1.4"/>
<rect x="235.30" y="431.00" width="2.00" height="4.40" fill="#000"/>
<text transform="translate(238.40,441.20) rotate(-45)" font-size="8.1" font-weight="bold" text-anchor="end" fill="#000" stroke="#000" stroke-width="0.3">Kit<tspan font-size="6" dy="-3.2">Wsh</tspan><tspan dy="3.2">-</tspan>TRAMP rec BMMC CD40L-/-</text>
<rect x="172.50" y="334.00" width="2.20" height="98.10" fill="#000"/>
<rect x="172.50" y="429.90" width="72.90" height="2.20" fill="#000"/>
<rect x="169.40" y="430.05" width="4.20" height="1.90" fill="#000"/>
<text x="169.00" y="433.70" font-size="7.4" font-weight="bold" text-anchor="end" fill="#000">0.0</text>
<rect x="169.40" y="406.05" width="4.20" height="1.90" fill="#000"/>
<text x="169.00" y="409.70" font-size="7.4" font-weight="bold" text-anchor="end" fill="#000">0.5</text>
<rect x="169.40" y="382.05" width="4.20" height="1.90" fill="#000"/>
<text x="169.00" y="385.70" font-size="7.4" font-weight="bold" text-anchor="end" fill="#000">1.0</text>
<rect x="169.40" y="358.05" width="4.20" height="1.90" fill="#000"/>
<text x="169.00" y="361.70" font-size="7.4" font-weight="bold" text-anchor="end" fill="#000">1.5</text>
<rect x="169.40" y="334.05" width="4.20" height="1.90" fill="#000"/>
<text x="169.00" y="337.70" font-size="7.4" font-weight="bold" text-anchor="end" fill="#000">2.0</text>
<text x="209.80" y="324.00" font-size="7.7" font-weight="bold" text-anchor="middle" fill="#000">iNos</text>
<text transform="translate(146.60,383.50) rotate(-90)" font-size="7.8" font-weight="normal" text-anchor="middle" fill="#383838" stroke="#383838" stroke-width="0.12">Relative expression/TRAMP</text>
<rect x="186.20" y="338.15" width="49.30" height="1.70" fill="#000"/>
<text x="209.80" y="338.50" font-size="8.8" font-weight="bold" text-anchor="middle" fill="#000" stroke="#000" stroke-width="0.15">*</text>
<rect x="201.20" y="348.15" width="17.60" height="1.70" fill="#000"/>
<text x="210.30" y="348.50" font-size="8.8" font-weight="bold" text-anchor="middle" fill="#000" stroke="#000" stroke-width="0.15">*</text>
<rect x="222.00" y="363.55" width="17.50" height="1.70" fill="#000"/>
<text x="232.80" y="363.90" font-size="8.8" font-weight="bold" text-anchor="middle" fill="#000" stroke="#000" stroke-width="0.15">**</text>
<rect x="182.50" y="374.35" width="17.50" height="1.70" fill="#000"/>
<text x="192.00" y="374.70" font-size="8.8" font-weight="bold" text-anchor="middle" fill="#000" stroke="#000" stroke-width="0.15">*</text>
<rect x="295.80" y="350.36" width="1.80" height="0.64" fill="#000"/>
<rect x="292.95" y="349.46" width="7.50" height="1.80" fill="#000"/>
<rect x="290.40" y="351.50" width="12.60" height="79.50" fill="#000" stroke="#000" stroke-width="1.4"/>
<rect x="295.70" y="431.00" width="2.00" height="4.40" fill="#000"/>
<text transform="translate(298.80,441.20) rotate(-45)" font-size="8.1" font-weight="bold" text-anchor="end" fill="#000" stroke="#000" stroke-width="0.3">TRAMP</text>
<rect x="313.70" y="383.80" width="1.80" height="10.00" fill="#000"/>
<rect x="310.85" y="382.90" width="7.50" height="1.80" fill="#000"/>
<rect x="308.30" y="394.30" width="12.60" height="36.70" fill="#fff" stroke="#000" stroke-width="1.4"/>
<rect x="313.60" y="431.00" width="2.00" height="4.40" fill="#000"/>
<text transform="translate(316.70,441.20) rotate(-45)" font-size="8.1" font-weight="bold" text-anchor="end" fill="#000" stroke="#000" stroke-width="0.3">Kit<tspan font-size="6" dy="-3.2">Wsh</tspan><tspan dy="3.2">-</tspan>TRAMP</text>
<rect x="331.60" y="377.80" width="1.80" height="3.20" fill="#000"/>
<rect x="328.75" y="376.90" width="7.50" height="1.80" fill="#000"/>
<rect x="326.20" y="381.50" width="12.60" height="49.50" fill="#817f91" stroke="#000" stroke-width="1.4"/>
<rect x="331.50" y="431.00" width="2.00" height="4.40" fill="#000"/>
<text transform="translate(334.60,441.20) rotate(-45)" font-size="8.1" font-weight="bold" text-anchor="end" fill="#000" stroke="#000" stroke-width="0.3">Kit<tspan font-size="6" dy="-3.2">Wsh</tspan><tspan dy="3.2">-</tspan>TRAMP rec BMMC</text>
<rect x="349.50" y="388.20" width="1.80" height="0.96" fill="#000"/>
<rect x="346.65" y="387.30" width="7.50" height="1.80" fill="#000"/>
<rect x="344.10" y="389.66" width="12.60" height="41.34" fill="#8c1a1d" stroke="#000" stroke-width="1.4"/>
<rect x="349.40" y="431.00" width="2.00" height="4.40" fill="#000"/>
<text transform="translate(352.50,441.20) rotate(-45)" font-size="8.1" font-weight="bold" text-anchor="end" fill="#000" stroke="#000" stroke-width="0.3">Kit<tspan font-size="6" dy="-3.2">Wsh</tspan><tspan dy="3.2">-</tspan>TRAMP rec BMMC CD40L-/-</text>
<rect x="286.30" y="335.70" width="2.20" height="96.40" fill="#000"/>
<rect x="286.30" y="429.90" width="73.00" height="2.20" fill="#000"/>
<rect x="283.20" y="430.05" width="4.20" height="1.90" fill="#000"/>
<text x="282.80" y="433.70" font-size="7.4" font-weight="bold" text-anchor="end" fill="#000">0.0</text>
<rect x="283.20" y="390.05" width="4.20" height="1.90" fill="#000"/>
<text x="282.80" y="393.70" font-size="7.4" font-weight="bold" text-anchor="end" fill="#000">0.5</text>
<rect x="283.20" y="350.05" width="4.20" height="1.90" fill="#000"/>
<text x="282.80" y="353.70" font-size="7.4" font-weight="bold" text-anchor="end" fill="#000">1.0</text>
<text x="323.60" y="324.00" font-size="7.7" font-weight="bold" text-anchor="middle" fill="#000">Stat3</text>
<text transform="translate(260.40,383.50) rotate(-90)" font-size="7.8" font-weight="normal" text-anchor="middle" fill="#383838" stroke="#383838" stroke-width="0.12">Relative expression/TRAMP</text>
<rect x="297.50" y="335.55" width="50.30" height="1.70" fill="#000"/>
<text x="314.50" y="335.90" font-size="8.8" font-weight="bold" text-anchor="middle" fill="#000" stroke="#000" stroke-width="0.15">*</text>
<rect x="297.50" y="341.55" width="31.30" height="1.70" fill="#000"/>
<rect x="297.50" y="347.25" width="17.00" height="1.70" fill="#000"/>
<rect x="358.30" y="299.30" width="11.80" height="6.30" fill="#000" stroke="#000" stroke-width="1.0"/>
<text x="375.60" y="305.60" font-size="7.7" font-weight="normal" text-anchor="start" fill="#111">TRAMP</text>
<rect x="358.30" y="312.35" width="11.80" height="6.30" fill="#fff" stroke="#000" stroke-width="1.0"/>
<text x="376.60" y="318.65" font-size="7.7" font-weight="normal" text-anchor="start" fill="#111">Kit<tspan font-size="6" dy="-3.2">Wsh</tspan><tspan dy="3.2">-</tspan>TRAMP</text>
<rect x="358.30" y="325.40" width="11.80" height="6.30" fill="#b4b7b9" stroke="#000" stroke-width="1.0"/>
<text x="376.60" y="331.70" font-size="7.7" font-weight="normal" text-anchor="start" fill="#111">Kit<tspan font-size="6" dy="-3.2">Wsh</tspan><tspan dy="3.2">-</tspan>TRAMP rec BMMC</text>
<rect x="358.30" y="338.45" width="11.80" height="6.30" fill="#8c1a1d" stroke="#000" stroke-width="1.0"/>
<text x="376.60" y="344.75" font-size="7.7" font-weight="normal" text-anchor="start" fill="#111">Kit<tspan font-size="6" dy="-3.2">Wsh</tspan><tspan dy="3.2">-</tspan>TRAMP rec BMMC CD40L-/-</text>
<text x="-0.20" y="561.00" font-size="16.2" font-weight="bold" text-anchor="start" fill="#000">D</text>
<path d="M56.0,628.8 L56.9,628.8 L57.8,628.7 L58.6,628.6 L59.5,628.5 L60.4,628.4 L61.3,628.2 L62.1,627.9 L63.0,627.6 L63.9,627.2 L64.8,626.8 L65.7,626.2 L66.5,625.5 L67.4,624.7 L68.3,623.5 L69.2,622.1 L70.1,620.0 L70.9,617.1 L71.8,613.2 L72.7,608.0 L73.6,601.6 L74.5,594.2 L75.3,586.5 L76.2,579.5 L77.1,574.2 L78.0,571.4 L78.8,571.5 L79.7,573.1 L80.6,576.0 L81.5,580.0 L82.4,584.7 L83.2,589.9 L84.1,595.1 L85.0,600.2 L85.9,604.8 L86.8,608.9 L87.6,612.4 L88.5,615.4 L89.4,617.8 L90.3,619.7 L91.1,621.2 L92.0,622.5 L92.9,623.4 L93.8,624.2 L94.7,624.9 L95.5,625.5 L96.4,626.0 L97.3,626.4 L98.2,626.8 L99.0,627.1 L99.9,627.4 L100.8,627.6 L101.7,627.8 L102.6,628.0 L103.4,628.2 L104.3,628.3 L105.2,628.4 L106.1,628.5 L107.0,628.6 L107.8,628.7 L108.7,628.7 L109.6,628.8 L110.5,628.8 L111.3,628.8 L112.2,628.8 L113.1,628.8 L114.0,628.9 L114.9,628.9 L115.7,628.9 L116.6,628.9 L117.5,628.9 L117.5,628.9 L56.0,628.9 Z" fill="#f5a9a9" stroke="#e67272" stroke-width="0.7" stroke-linejoin="round"/>
<path d="M56.0,627.8 L56.9,627.5 L57.8,627.1 L58.6,626.5 L59.5,625.9 L60.4,625.1 L61.3,624.1 L62.1,622.7 L63.0,620.6 L63.9,617.6 L64.8,613.2 L65.7,607.1 L66.5,599.4 L67.4,590.6 L68.3,581.9 L69.2,574.8 L70.1,570.7 L70.9,570.5 L71.8,572.9 L72.7,577.4 L73.6,583.4 L74.5,590.2 L75.3,597.1 L76.2,603.4 L77.1,608.9 L78.0,613.3 L78.8,616.8 L79.7,619.4 L80.6,621.4 L81.5,622.8 L82.4,623.9 L83.2,624.8 L84.1,625.5 L85.0,626.0 L85.9,626.5 L86.8,626.9 L87.6,627.3 L88.5,627.6 L89.4,627.9 L90.3,628.1 L91.1,628.3 L92.0,628.4 L92.9,628.5 L93.8,628.6 L94.7,628.7 L95.5,628.7 L96.4,628.8 L97.3,628.8 L98.2,628.8 L99.0,628.9 L99.9,628.9 L100.8,628.9 L101.7,628.9 L102.6,628.9 L103.4,628.9 L104.3,628.9 L105.2,628.9 L106.1,628.9 L107.0,628.9 L107.8,628.9 L108.7,628.9 L109.6,628.9 L110.5,628.9 L111.3,628.9 L112.2,628.9 L113.1,628.9 L114.0,628.9 L114.9,628.9 L115.7,628.9 L116.6,628.9 L117.5,628.9" fill="none" stroke="#0a0a0a" stroke-width="0.95" stroke-linejoin="round"/>
<rect x="55.50" y="567.40" width="62.50" height="62.10" fill="none" stroke="#333" stroke-width="0.65"/>
<rect x="53.70" y="628.70" width="1.80" height="0.60" fill="#222"/>
<text x="53.50" y="630.80" font-size="5.0" font-weight="bold" text-anchor="end" fill="#1a1a1a">0</text>
<rect x="53.70" y="616.85" width="1.80" height="0.60" fill="#222"/>
<text x="53.50" y="618.95" font-size="5.0" font-weight="bold" text-anchor="end" fill="#1a1a1a">20</text>
<rect x="53.70" y="605.00" width="1.80" height="0.60" fill="#222"/>
<text x="53.50" y="607.10" font-size="5.0" font-weight="bold" text-anchor="end" fill="#1a1a1a">40</text>
<rect x="53.70" y="593.15" width="1.80" height="0.60" fill="#222"/>
<text x="53.50" y="595.25" font-size="5.0" font-weight="bold" text-anchor="end" fill="#1a1a1a">60</text>
<rect x="53.70" y="581.30" width="1.80" height="0.60" fill="#222"/>
<text x="53.50" y="583.40" font-size="5.0" font-weight="bold" text-anchor="end" fill="#1a1a1a">80</text>
<rect x="53.70" y="569.45" width="1.80" height="0.60" fill="#222"/>
<text x="53.50" y="571.55" font-size="5.0" font-weight="bold" text-anchor="end" fill="#1a1a1a">100</text>
<text transform="translate(44.50,597.50) rotate(-90)" font-size="6.0" font-weight="bold" text-anchor="middle" fill="#1a1a1a">% of Max</text>
<rect x="62.25" y="629.50" width="0.50" height="1.40" fill="#222"/>
<text x="62.50" y="636.00" font-size="4.7" font-weight="bold" text-anchor="middle" fill="#1a1a1a">0</text>
<rect x="67.25" y="629.50" width="0.50" height="1.40" fill="#222"/>
<text x="68.30" y="636.00" font-size="4.7" font-weight="bold" text-anchor="middle" fill="#1a1a1a">10<tspan font-size="3.4" dy="-1.9">2</tspan></text>
<rect x="84.75" y="629.50" width="0.50" height="1.40" fill="#222"/>
<text x="85.80" y="636.00" font-size="4.7" font-weight="bold" text-anchor="middle" fill="#1a1a1a">10<tspan font-size="3.4" dy="-1.9">3</tspan></text>
<rect x="98.75" y="629.50" width="0.50" height="1.40" fill="#222"/>
<text x="99.80" y="636.00" font-size="4.7" font-weight="bold" text-anchor="middle" fill="#1a1a1a">10<tspan font-size="3.4" dy="-1.9">4</tspan></text>
<rect x="112.25" y="629.50" width="0.50" height="1.40" fill="#222"/>
<text x="113.30" y="636.00" font-size="4.7" font-weight="bold" text-anchor="middle" fill="#1a1a1a">10<tspan font-size="3.4" dy="-1.9">5</tspan></text>
<text x="86.90" y="642.30" font-size="6.25" font-weight="normal" text-anchor="middle" fill="#1a1a1a" stroke="#1a1a1a" stroke-width="0.22">&lt;Alexa Fluor 647-A&gt;: Arg1 RI</text>
<text x="87.00" y="562.20" font-size="7.3" font-weight="bold" text-anchor="middle" fill="#111">Arg1- Alexa 647</text>
<path d="M146.3,628.9 L147.2,628.9 L148.1,628.9 L149.0,628.9 L149.8,628.9 L150.7,628.9 L151.6,628.9 L152.5,628.9 L153.4,628.9 L154.3,628.9 L155.2,628.9 L156.0,628.9 L156.9,628.9 L157.8,628.8 L158.7,628.8 L159.6,628.7 L160.5,628.6 L161.4,628.4 L162.2,628.2 L163.1,627.8 L164.0,627.3 L164.9,626.6 L165.8,625.8 L166.7,624.6 L167.6,622.8 L168.4,620.1 L169.3,615.8 L170.2,609.2 L171.1,600.0 L172.0,589.2 L172.9,579.0 L173.8,572.4 L174.6,571.4 L175.5,573.9 L176.4,578.8 L177.3,585.4 L178.2,592.6 L179.1,599.8 L180.0,606.2 L180.8,611.5 L181.7,615.7 L182.6,618.8 L183.5,621.1 L184.4,622.8 L185.3,624.0 L186.2,625.0 L187.0,625.7 L187.9,626.4 L188.8,626.9 L189.7,627.3 L190.6,627.7 L191.5,627.9 L192.4,628.2 L193.2,628.4 L194.1,628.5 L195.0,628.6 L195.9,628.7 L196.8,628.7 L197.7,628.8 L198.6,628.8 L199.4,628.8 L200.3,628.9 L201.2,628.9 L202.1,628.9 L203.0,628.9 L203.9,628.9 L204.8,628.9 L205.6,628.9 L206.5,628.9 L207.4,628.9 L208.3,628.9 L208.3,628.9 L146.3,628.9 Z" fill="#f5a9a9" stroke="#e67272" stroke-width="0.7" stroke-linejoin="round"/>
<path d="M146.3,628.9 L147.2,628.9 L148.1,628.9 L149.0,628.9 L149.8,628.9 L150.7,628.9 L151.6,628.9 L152.5,628.9 L153.4,628.9 L154.3,628.9 L155.2,628.9 L156.0,628.9 L156.9,628.9 L157.8,628.9 L158.7,628.9 L159.6,628.9 L160.5,628.9 L161.4,628.9 L162.2,628.8 L163.1,628.7 L164.0,628.4 L164.9,628.1 L165.8,627.5 L166.7,626.5 L167.6,625.2 L168.4,623.0 L169.3,618.7 L170.2,610.0 L171.1,595.5 L172.0,579.2 L172.9,570.4 L173.8,573.3 L174.6,583.3 L175.5,596.0 L176.4,607.4 L177.3,615.5 L178.2,620.4 L179.1,623.2 L180.0,624.9 L180.8,626.1 L181.7,626.9 L182.6,627.6 L183.5,628.0 L184.4,628.3 L185.3,628.6 L186.2,628.7 L187.0,628.8 L187.9,628.8 L188.8,628.9 L189.7,628.9 L190.6,628.9 L191.5,628.9 L192.4,628.9 L193.2,628.9 L194.1,628.9 L195.0,628.9 L195.9,628.9 L196.8,628.9 L197.7,628.9 L198.6,628.9 L199.4,628.9 L200.3,628.9 L201.2,628.9 L202.1,628.9 L203.0,628.9 L203.9,628.9 L204.8,628.9 L205.6,628.9 L206.5,628.9 L207.4,628.9 L208.3,628.9" fill="none" stroke="#0a0a0a" stroke-width="0.95" stroke-linejoin="round"/>
<rect x="145.80" y="567.40" width="63.00" height="62.10" fill="none" stroke="#333" stroke-width="0.65"/>
<rect x="144.00" y="628.70" width="1.80" height="0.60" fill="#222"/>
<text x="143.80" y="630.80" font-size="5.0" font-weight="bold" text-anchor="end" fill="#1a1a1a">0</text>
<rect x="144.00" y="616.85" width="1.80" height="0.60" fill="#222"/>
<text x="143.80" y="618.95" font-size="5.0" font-weight="bold" text-anchor="end" fill="#1a1a1a">20</text>
<rect x="144.00" y="605.00" width="1.80" height="0.60" fill="#222"/>
<text x="143.80" y="607.10" font-size="5.0" font-weight="bold" text-anchor="end" fill="#1a1a1a">40</text>
<rect x="144.00" y="593.15" width="1.80" height="0.60" fill="#222"/>
<text x="143.80" y="595.25" font-size="5.0" font-weight="bold" text-anchor="end" fill="#1a1a1a">60</text>
<rect x="144.00" y="581.30" width="1.80" height="0.60" fill="#222"/>
<text x="143.80" y="583.40" font-size="5.0" font-weight="bold" text-anchor="end" fill="#1a1a1a">80</text>
<rect x="144.00" y="569.45" width="1.80" height="0.60" fill="#222"/>
<text x="143.80" y="571.55" font-size="5.0" font-weight="bold" text-anchor="end" fill="#1a1a1a">100</text>
<text transform="translate(134.80,597.50) rotate(-90)" font-size="6.0" font-weight="bold" text-anchor="middle" fill="#1a1a1a">% of Max</text>
<rect x="152.55" y="629.50" width="0.50" height="1.40" fill="#222"/>
<text x="152.80" y="636.00" font-size="4.7" font-weight="bold" text-anchor="middle" fill="#1a1a1a">0</text>
<rect x="157.55" y="629.50" width="0.50" height="1.40" fill="#222"/>
<text x="158.60" y="636.00" font-size="4.7" font-weight="bold" text-anchor="middle" fill="#1a1a1a">10<tspan font-size="3.4" dy="-1.9">2</tspan></text>
<rect x="175.05" y="629.50" width="0.50" height="1.40" fill="#222"/>
<text x="176.10" y="636.00" font-size="4.7" font-weight="bold" text-anchor="middle" fill="#1a1a1a">10<tspan font-size="3.4" dy="-1.9">3</tspan></text>
<rect x="189.05" y="629.50" width="0.50" height="1.40" fill="#222"/>
<text x="190.10" y="636.00" font-size="4.7" font-weight="bold" text-anchor="middle" fill="#1a1a1a">10<tspan font-size="3.4" dy="-1.9">4</tspan></text>
<rect x="202.55" y="629.50" width="0.50" height="1.40" fill="#222"/>
<text x="203.60" y="636.00" font-size="4.7" font-weight="bold" text-anchor="middle" fill="#1a1a1a">10<tspan font-size="3.4" dy="-1.9">5</tspan></text>
<text x="178.50" y="642.30" font-size="6.25" font-weight="normal" text-anchor="middle" fill="#1a1a1a" stroke="#1a1a1a" stroke-width="0.22">&lt;Alexa Fluor 488-A&gt;: Nos2 Rf</text>
<text x="177.80" y="562.20" font-size="7.3" font-weight="bold" text-anchor="middle" fill="#111">iNos- Alexa 488</text>
<path d="M237.3,628.9 L238.2,628.9 L239.1,628.9 L239.9,628.9 L240.8,628.9 L241.7,628.9 L242.6,628.9 L243.5,628.9 L244.4,628.9 L245.2,628.9 L246.1,628.9 L247.0,628.9 L247.9,628.9 L248.8,628.9 L249.6,628.9 L250.5,628.9 L251.4,628.9 L252.3,628.9 L253.2,628.9 L254.0,628.9 L254.9,628.8 L255.8,628.7 L256.7,628.6 L257.6,628.3 L258.5,627.9 L259.3,627.3 L260.2,626.3 L261.1,624.9 L262.0,622.7 L262.9,618.7 L263.7,611.4 L264.6,599.6 L265.5,585.3 L266.4,573.9 L267.3,571.4 L268.1,575.1 L269.0,582.3 L269.9,591.5 L270.8,600.6 L271.7,608.5 L272.6,614.5 L273.4,618.7 L274.3,621.6 L275.2,623.5 L276.1,624.8 L277.0,625.8 L277.8,626.6 L278.7,627.2 L279.6,627.6 L280.5,628.0 L281.4,628.3 L282.3,628.5 L283.1,628.6 L284.0,628.7 L284.9,628.8 L285.8,628.8 L286.7,628.9 L287.5,628.9 L288.4,628.9 L289.3,628.9 L290.2,628.9 L291.1,628.9 L291.9,628.9 L292.8,628.9 L293.7,628.9 L294.6,628.9 L295.5,628.9 L296.4,628.9 L297.2,628.9 L298.1,628.9 L299.0,628.9 L299.0,628.9 L237.3,628.9 Z" fill="#f5a9a9" stroke="#e67272" stroke-width="0.7" stroke-linejoin="round"/>
<path d="M237.3,628.9 L238.2,628.9 L239.1,628.9 L239.9,628.9 L240.8,628.9 L241.7,628.9 L242.6,628.9 L243.5,628.9 L244.4,628.9 L245.2,628.9 L246.1,628.9 L247.0,628.9 L247.9,628.9 L248.8,628.9 L249.6,628.9 L250.5,628.9 L251.4,628.9 L252.3,628.9 L253.2,628.9 L254.0,628.9 L254.9,628.8 L255.8,628.6 L256.7,628.2 L257.6,627.5 L258.5,626.2 L259.3,624.0 L260.2,619.0 L261.1,606.5 L262.0,585.3 L262.9,570.5 L263.7,574.2 L264.6,586.9 L265.5,601.5 L266.4,612.8 L267.3,619.5 L268.1,623.1 L269.0,625.0 L269.9,626.3 L270.8,627.2 L271.7,627.8 L272.6,628.3 L273.4,628.5 L274.3,628.7 L275.2,628.8 L276.1,628.8 L277.0,628.9 L277.8,628.9 L278.7,628.9 L279.6,628.9 L280.5,628.9 L281.4,628.9 L282.3,628.9 L283.1,628.9 L284.0,628.9 L284.9,628.9 L285.8,628.9 L286.7,628.9 L287.5,628.9 L288.4,628.9 L289.3,628.9 L290.2,628.9 L291.1,628.9 L291.9,628.9 L292.8,628.9 L293.7,628.9 L294.6,628.9 L295.5,628.9 L296.4,628.9 L297.2,628.9 L298.1,628.9 L299.0,628.9" fill="none" stroke="#0a0a0a" stroke-width="0.95" stroke-linejoin="round"/>
<rect x="236.80" y="567.40" width="62.70" height="62.10" fill="none" stroke="#333" stroke-width="0.65"/>
<rect x="235.00" y="628.70" width="1.80" height="0.60" fill="#222"/>
<text x="234.80" y="630.80" font-size="5.0" font-weight="bold" text-anchor="end" fill="#1a1a1a">0</text>
<rect x="235.00" y="616.85" width="1.80" height="0.60" fill="#222"/>
<text x="234.80" y="618.95" font-size="5.0" font-weight="bold" text-anchor="end" fill="#1a1a1a">20</text>
<rect x="235.00" y="605.00" width="1.80" height="0.60" fill="#222"/>
<text x="234.80" y="607.10" font-size="5.0" font-weight="bold" text-anchor="end" fill="#1a1a1a">40</text>
<rect x="235.00" y="593.15" width="1.80" height="0.60" fill="#222"/>
<text x="234.80" y="595.25" font-size="5.0" font-weight="bold" text-anchor="end" fill="#1a1a1a">60</text>
<rect x="235.00" y="581.30" width="1.80" height="0.60" fill="#222"/>
<text x="234.80" y="583.40" font-size="5.0" font-weight="bold" text-anchor="end" fill="#1a1a1a">80</text>
<rect x="235.00" y="569.45" width="1.80" height="0.60" fill="#222"/>
<text x="234.80" y="571.55" font-size="5.0" font-weight="bold" text-anchor="end" fill="#1a1a1a">100</text>
<text transform="translate(225.80,597.50) rotate(-90)" font-size="6.0" font-weight="bold" text-anchor="middle" fill="#1a1a1a">% of Max</text>
<rect x="243.55" y="629.50" width="0.50" height="1.40" fill="#222"/>
<text x="243.80" y="636.00" font-size="4.7" font-weight="bold" text-anchor="middle" fill="#1a1a1a">0</text>
<rect x="248.55" y="629.50" width="0.50" height="1.40" fill="#222"/>
<text x="249.60" y="636.00" font-size="4.7" font-weight="bold" text-anchor="middle" fill="#1a1a1a">10<tspan font-size="3.4" dy="-1.9">2</tspan></text>
<rect x="266.05" y="629.50" width="0.50" height="1.40" fill="#222"/>
<text x="267.10" y="636.00" font-size="4.7" font-weight="bold" text-anchor="middle" fill="#1a1a1a">10<tspan font-size="3.4" dy="-1.9">3</tspan></text>
<rect x="280.05" y="629.50" width="0.50" height="1.40" fill="#222"/>
<text x="281.10" y="636.00" font-size="4.7" font-weight="bold" text-anchor="middle" fill="#1a1a1a">10<tspan font-size="3.4" dy="-1.9">4</tspan></text>
<rect x="293.55" y="629.50" width="0.50" height="1.40" fill="#222"/>
<text x="294.60" y="636.00" font-size="4.7" font-weight="bold" text-anchor="middle" fill="#1a1a1a">10<tspan font-size="3.4" dy="-1.9">5</tspan></text>
<text x="268.80" y="642.30" font-size="6.25" font-weight="normal" text-anchor="middle" fill="#1a1a1a" stroke="#1a1a1a" stroke-width="0.22">&lt;Alexa Fluor 488-A&gt; STAT3 Rf</text>
<text x="268.80" y="562.20" font-size="7.3" font-weight="bold" text-anchor="middle" fill="#111">Stat3- Alexa 488</text>
<path d="M333.8,628.9 L334.7,628.9 L335.6,628.9 L336.5,628.9 L337.3,628.9 L338.2,628.9 L339.1,628.9 L340.0,628.9 L340.9,626.9 L341.8,626.9 L342.7,626.9 L343.5,626.9 L344.4,626.9 L345.3,626.9 L346.2,626.9 L347.1,626.9 L348.0,626.9 L348.9,626.9 L349.7,626.9 L350.6,626.9 L351.5,626.9 L352.4,626.9 L353.3,626.9 L354.2,626.9 L355.1,626.9 L355.9,626.9 L356.8,626.9 L357.7,626.9 L358.6,626.9 L359.5,626.5 L360.4,625.8 L361.3,625.0 L362.1,623.9 L363.0,622.4 L363.9,620.4 L364.8,617.4 L365.7,613.3 L366.6,607.7 L367.5,600.7 L368.3,592.7 L369.2,584.5 L370.1,577.4 L371.0,572.7 L371.9,571.2 L372.8,572.7 L373.7,576.3 L374.5,581.8 L375.4,588.2 L376.3,595.0 L377.2,601.4 L378.1,607.2 L379.0,611.9 L379.9,615.7 L380.7,618.7 L381.6,620.8 L382.5,622.5 L383.4,623.7 L384.3,624.7 L385.2,625.4 L386.1,626.1 L386.9,626.6 L387.8,627.0 L388.7,627.4 L389.6,627.7 L390.5,628.0 L391.4,628.2 L392.3,628.3 L393.1,628.5 L394.0,628.6 L394.9,628.7 L395.8,628.7 L395.8,628.9 L333.8,628.9 Z" fill="#f5a9a9" stroke="#e67272" stroke-width="0.7" stroke-linejoin="round"/>
<path d="M333.8,628.3 L334.7,628.1 L335.6,627.7 L336.5,627.3 L337.3,626.7 L338.2,626.1 L339.1,625.2 L340.0,624.1 L340.9,622.4 L341.8,620.0 L342.7,616.1 L343.5,610.4 L344.4,602.6 L345.3,593.1 L346.2,583.2 L347.1,575.0 L348.0,570.6 L348.9,570.8 L349.7,574.2 L350.6,580.0 L351.5,587.3 L352.4,595.1 L353.3,602.4 L354.2,608.6 L355.1,613.6 L355.9,617.4 L356.8,620.1 L357.7,622.1 L358.6,623.5 L359.5,624.5 L360.4,625.3 L361.3,626.0 L362.1,626.5 L363.0,627.0 L363.9,627.4 L364.8,627.7 L365.7,628.0 L366.6,628.2 L367.5,628.4 L368.3,628.5 L369.2,628.6 L370.1,628.7 L371.0,628.7 L371.9,628.8 L372.8,628.8 L373.7,628.8 L374.5,628.9 L375.4,628.9 L376.3,628.9 L377.2,628.9 L378.1,628.9 L379.0,628.9 L379.9,628.9 L380.7,628.9 L381.6,628.9 L382.5,628.9 L383.4,628.9 L384.3,628.9 L385.2,628.9 L386.1,628.9 L386.9,628.9 L387.8,628.9 L388.7,628.9 L389.6,628.9 L390.5,628.9 L391.4,628.9 L392.3,628.9 L393.1,628.9 L394.0,628.9 L394.9,628.9 L395.8,628.9" fill="none" stroke="#0a0a0a" stroke-width="0.95" stroke-linejoin="round"/>
<rect x="333.30" y="567.40" width="63.00" height="62.10" fill="none" stroke="#333" stroke-width="0.65"/>
<rect x="331.50" y="628.70" width="1.80" height="0.60" fill="#222"/>
<text x="331.30" y="630.80" font-size="5.0" font-weight="bold" text-anchor="end" fill="#1a1a1a">0</text>
<rect x="331.50" y="616.85" width="1.80" height="0.60" fill="#222"/>
<text x="331.30" y="618.95" font-size="5.0" font-weight="bold" text-anchor="end" fill="#1a1a1a">20</text>
<rect x="331.50" y="605.00" width="1.80" height="0.60" fill="#222"/>
<text x="331.30" y="607.10" font-size="5.0" font-weight="bold" text-anchor="end" fill="#1a1a1a">40</text>
<rect x="331.50" y="593.15" width="1.80" height="0.60" fill="#222"/>
<text x="331.30" y="595.25" font-size="5.0" font-weight="bold" text-anchor="end" fill="#1a1a1a">60</text>
<rect x="331.50" y="581.30" width="1.80" height="0.60" fill="#222"/>
<text x="331.30" y="583.40" font-size="5.0" font-weight="bold" text-anchor="end" fill="#1a1a1a">80</text>
<rect x="331.50" y="569.45" width="1.80" height="0.60" fill="#222"/>
<text x="331.30" y="571.55" font-size="5.0" font-weight="bold" text-anchor="end" fill="#1a1a1a">100</text>
<text transform="translate(322.30,597.50) rotate(-90)" font-size="6.0" font-weight="bold" text-anchor="middle" fill="#1a1a1a">% of Max</text>
<rect x="340.05" y="629.50" width="0.50" height="1.40" fill="#222"/>
<text x="340.30" y="636.00" font-size="4.7" font-weight="bold" text-anchor="middle" fill="#1a1a1a">0</text>
<rect x="345.05" y="629.50" width="0.50" height="1.40" fill="#222"/>
<text x="346.10" y="636.00" font-size="4.7" font-weight="bold" text-anchor="middle" fill="#1a1a1a">10<tspan font-size="3.4" dy="-1.9">2</tspan></text>
<rect x="362.55" y="629.50" width="0.50" height="1.40" fill="#222"/>
<text x="363.60" y="636.00" font-size="4.7" font-weight="bold" text-anchor="middle" fill="#1a1a1a">10<tspan font-size="3.4" dy="-1.9">3</tspan></text>
<rect x="376.55" y="629.50" width="0.50" height="1.40" fill="#222"/>
<text x="377.60" y="636.00" font-size="4.7" font-weight="bold" text-anchor="middle" fill="#1a1a1a">10<tspan font-size="3.4" dy="-1.9">4</tspan></text>
<rect x="390.05" y="629.50" width="0.50" height="1.40" fill="#222"/>
<text x="391.10" y="636.00" font-size="4.7" font-weight="bold" text-anchor="middle" fill="#1a1a1a">10<tspan font-size="3.4" dy="-1.9">5</tspan></text>
<text x="364.50" y="642.30" font-size="6.25" font-weight="normal" text-anchor="middle" fill="#1a1a1a" stroke="#1a1a1a" stroke-width="0.22">&lt;Alexa Fluor 647-A&gt; Ac</text>
<text x="364.80" y="562.20" font-size="7.3" font-weight="bold" text-anchor="middle" fill="#111">Actin- Alexa 647</text>
<path d="M425.0,628.9 L425.9,628.9 L426.8,628.9 L427.7,628.9 L428.5,628.9 L429.4,628.9 L430.3,628.9 L431.2,628.9 L432.1,628.9 L433.0,628.9 L433.9,628.9 L434.7,628.9 L435.6,628.9 L436.5,628.9 L437.4,628.9 L438.3,628.9 L439.2,628.9 L440.1,628.9 L440.9,628.9 L441.8,628.9 L442.7,628.9 L443.6,628.9 L444.5,628.9 L445.4,628.8 L446.3,628.7 L447.1,628.6 L448.0,628.3 L448.9,627.9 L449.8,627.4 L450.7,626.5 L451.6,625.3 L452.5,623.4 L453.3,620.2 L454.2,614.5 L455.1,604.9 L456.0,591.8 L456.9,578.8 L457.8,571.5 L458.7,572.2 L459.5,576.5 L460.4,583.3 L461.3,591.3 L462.2,599.4 L463.1,606.6 L464.0,612.5 L464.9,616.8 L465.7,620.0 L466.6,622.1 L467.5,623.7 L468.4,624.8 L469.3,625.7 L470.2,626.4 L471.1,627.0 L471.9,627.4 L472.8,627.8 L473.7,628.1 L474.6,628.3 L475.5,628.5 L476.4,628.6 L477.3,628.7 L478.1,628.8 L479.0,628.8 L479.9,628.8 L480.8,628.9 L481.7,628.9 L482.6,628.9 L483.5,628.9 L484.3,628.9 L485.2,628.9 L486.1,628.9 L487.0,628.9 L487.0,628.9 L425.0,628.9 Z" fill="#f5a9a9" stroke="#e67272" stroke-width="0.7" stroke-linejoin="round"/>
<path d="M425.0,628.9 L425.9,628.9 L426.8,628.9 L427.7,628.9 L428.5,628.9 L429.4,628.9 L430.3,628.9 L431.2,628.9 L432.1,628.9 L433.0,628.9 L433.9,628.9 L434.7,628.9 L435.6,628.9 L436.5,628.9 L437.4,628.9 L438.3,628.9 L439.2,628.9 L440.1,628.9 L440.9,628.9 L441.8,628.8 L442.7,628.6 L443.6,628.3 L444.5,627.6 L445.4,626.5 L446.3,624.8 L447.1,621.3 L448.0,613.1 L448.9,596.5 L449.8,576.9 L450.7,570.5 L451.6,579.1 L452.5,594.5 L453.3,608.5 L454.2,617.5 L455.1,622.2 L456.0,624.7 L456.9,626.1 L457.8,627.1 L458.7,627.8 L459.5,628.3 L460.4,628.6 L461.3,628.7 L462.2,628.8 L463.1,628.9 L464.0,628.9 L464.9,628.9 L465.7,628.9 L466.6,628.9 L467.5,628.9 L468.4,628.9 L469.3,628.9 L470.2,628.9 L471.1,628.9 L471.9,628.9 L472.8,628.9 L473.7,628.9 L474.6,628.9 L475.5,628.9 L476.4,628.9 L477.3,628.9 L478.1,628.9 L479.0,628.9 L479.9,628.9 L480.8,628.9 L481.7,628.9 L482.6,628.9 L483.5,628.9 L484.3,628.9 L485.2,628.9 L486.1,628.9 L487.0,628.9" fill="none" stroke="#0a0a0a" stroke-width="0.95" stroke-linejoin="round"/>
<rect x="424.50" y="567.40" width="63.00" height="62.10" fill="none" stroke="#333" stroke-width="0.65"/>
<rect x="422.70" y="628.70" width="1.80" height="0.60" fill="#222"/>
<text x="422.50" y="630.80" font-size="5.0" font-weight="bold" text-anchor="end" fill="#1a1a1a">0</text>
<rect x="422.70" y="616.85" width="1.80" height="0.60" fill="#222"/>
<text x="422.50" y="618.95" font-size="5.0" font-weight="bold" text-anchor="end" fill="#1a1a1a">20</text>
<rect x="422.70" y="605.00" width="1.80" height="0.60" fill="#222"/>
<text x="422.50" y="607.10" font-size="5.0" font-weight="bold" text-anchor="end" fill="#1a1a1a">40</text>
<rect x="422.70" y="593.15" width="1.80" height="0.60" fill="#222"/>
<text x="422.50" y="595.25" font-size="5.0" font-weight="bold" text-anchor="end" fill="#1a1a1a">60</text>
<rect x="422.70" y="581.30" width="1.80" height="0.60" fill="#222"/>
<text x="422.50" y="583.40" font-size="5.0" font-weight="bold" text-anchor="end" fill="#1a1a1a">80</text>
<rect x="422.70" y="569.45" width="1.80" height="0.60" fill="#222"/>
<text x="422.50" y="571.55" font-size="5.0" font-weight="bold" text-anchor="end" fill="#1a1a1a">100</text>
<text transform="translate(413.50,597.50) rotate(-90)" font-size="6.0" font-weight="bold" text-anchor="middle" fill="#1a1a1a">% of Max</text>
<rect x="431.25" y="629.50" width="0.50" height="1.40" fill="#222"/>
<text x="431.50" y="636.00" font-size="4.7" font-weight="bold" text-anchor="middle" fill="#1a1a1a">0</text>
<rect x="436.25" y="629.50" width="0.50" height="1.40" fill="#222"/>
<text x="437.30" y="636.00" font-size="4.7" font-weight="bold" text-anchor="middle" fill="#1a1a1a">10<tspan font-size="3.4" dy="-1.9">2</tspan></text>
<rect x="453.75" y="629.50" width="0.50" height="1.40" fill="#222"/>
<text x="454.80" y="636.00" font-size="4.7" font-weight="bold" text-anchor="middle" fill="#1a1a1a">10<tspan font-size="3.4" dy="-1.9">3</tspan></text>
<rect x="467.75" y="629.50" width="0.50" height="1.40" fill="#222"/>
<text x="468.80" y="636.00" font-size="4.7" font-weight="bold" text-anchor="middle" fill="#1a1a1a">10<tspan font-size="3.4" dy="-1.9">4</tspan></text>
<rect x="481.25" y="629.50" width="0.50" height="1.40" fill="#222"/>
<text x="482.30" y="636.00" font-size="4.7" font-weight="bold" text-anchor="middle" fill="#1a1a1a">10<tspan font-size="3.4" dy="-1.9">5</tspan></text>
<text x="456.65" y="642.30" font-size="6.25" font-weight="normal" text-anchor="middle" fill="#1a1a1a" stroke="#1a1a1a" stroke-width="0.22">&lt;Alexa Fluor 488-A&gt; Ac</text>
<text x="455.60" y="562.20" font-size="7.3" font-weight="bold" text-anchor="middle" fill="#111">Actin- Alexa 488</text>
<rect x="62.65" y="719.20" width="1.50" height="4.54" fill="#000"/>
<rect x="59.40" y="718.45" width="8.00" height="1.50" fill="#000"/>
<rect x="56.00" y="723.74" width="14.80" height="62.86" fill="#000"/>
<rect x="62.50" y="786.60" width="1.80" height="4.40" fill="#000"/>
<text transform="translate(65.00,796.90) rotate(-45)" font-size="8.0" font-weight="bold" text-anchor="end" fill="#000" stroke="#000" stroke-width="0.3">MDSC</text>
<rect x="82.53" y="695.30" width="1.50" height="2.87" fill="#000"/>
<rect x="79.28" y="694.55" width="8.00" height="1.50" fill="#000"/>
<rect x="75.88" y="698.17" width="14.80" height="88.43" fill="#000"/>
<rect x="82.38" y="786.60" width="1.80" height="4.40" fill="#000"/>
<text transform="translate(84.88,796.90) rotate(-45)" font-size="8.0" font-weight="bold" text-anchor="end" fill="#000" stroke="#000" stroke-width="0.3">MDSC + a CD40</text>
<rect x="102.41" y="709.52" width="1.50" height="1.79" fill="#000"/>
<rect x="99.16" y="708.77" width="8.00" height="1.50" fill="#000"/>
<rect x="95.76" y="711.32" width="14.80" height="75.28" fill="#000"/>
<rect x="102.26" y="786.60" width="1.80" height="4.40" fill="#000"/>
<text transform="translate(104.76,796.90) rotate(-45)" font-size="8.0" font-weight="bold" text-anchor="end" fill="#000" stroke="#000" stroke-width="0.3">MDSC + MC</text>
<rect x="122.29" y="723.26" width="1.50" height="1.43" fill="#000"/>
<rect x="119.04" y="722.51" width="8.00" height="1.50" fill="#000"/>
<rect x="115.64" y="724.70" width="14.80" height="61.90" fill="#000"/>
<rect x="122.14" y="786.60" width="1.80" height="4.40" fill="#000"/>
<text transform="translate(124.64,796.90) rotate(-45)" font-size="8.0" font-weight="bold" text-anchor="end" fill="#000" stroke="#000" stroke-width="0.3">MDSC + MC CD40L KO</text>
<rect x="142.17" y="718.72" width="1.50" height="1.43" fill="#000"/>
<rect x="138.92" y="717.97" width="8.00" height="1.50" fill="#000"/>
<rect x="135.52" y="720.16" width="14.80" height="66.44" fill="#000"/>
<rect x="142.02" y="786.60" width="1.80" height="4.40" fill="#000"/>
<text transform="translate(144.52,796.90) rotate(-45)" font-size="8.0" font-weight="bold" text-anchor="end" fill="#000" stroke="#000" stroke-width="0.3">MDSC + a CD40L + MC</text>
<rect x="162.05" y="710.12" width="1.50" height="2.39" fill="#000"/>
<rect x="158.80" y="709.37" width="8.00" height="1.50" fill="#000"/>
<rect x="155.40" y="712.51" width="14.80" height="74.09" fill="#000"/>
<rect x="161.90" y="786.60" width="1.80" height="4.40" fill="#000"/>
<text transform="translate(164.40,796.90) rotate(-45)" font-size="8.0" font-weight="bold" text-anchor="end" fill="#000" stroke="#000" stroke-width="0.3">MDSC + IL4 + IFNγ</text>
<rect x="51.85" y="690.00" width="2.50" height="97.85" fill="#000"/>
<rect x="51.85" y="785.35" width="120.55" height="2.50" fill="#000"/>
<rect x="47.30" y="785.65" width="5.80" height="1.90" fill="#000"/>
<text transform="translate(49.60,786.00) rotate(-90)" font-size="7.4" font-weight="bold" text-anchor="middle" fill="#000">0</text>
<rect x="47.30" y="761.75" width="5.80" height="1.90" fill="#000"/>
<text transform="translate(49.60,762.10) rotate(-90)" font-size="7.4" font-weight="bold" text-anchor="middle" fill="#000">1</text>
<rect x="47.30" y="737.85" width="5.80" height="1.90" fill="#000"/>
<text transform="translate(49.60,738.20) rotate(-90)" font-size="7.4" font-weight="bold" text-anchor="middle" fill="#000">2</text>
<rect x="47.30" y="713.95" width="5.80" height="1.90" fill="#000"/>
<text transform="translate(49.60,714.30) rotate(-90)" font-size="7.4" font-weight="bold" text-anchor="middle" fill="#000">3</text>
<rect x="47.30" y="690.05" width="5.80" height="1.90" fill="#000"/>
<text transform="translate(49.60,690.40) rotate(-90)" font-size="7.4" font-weight="bold" text-anchor="middle" fill="#000">4</text>
<text x="112.30" y="661.90" font-size="7.7" font-weight="bold" text-anchor="middle" fill="#000">Arg1</text>
<text transform="translate(33.30,738.00) rotate(-90)" font-size="7.8" font-weight="normal" text-anchor="middle" fill="#4a4a4a">Relative expession/FMO</text>
<rect x="63.00" y="670.35" width="102.50" height="1.70" fill="#000"/>
<text x="112.50" y="670.70" font-size="8.8" font-weight="bold" text-anchor="middle" fill="#000" stroke="#000" stroke-width="0.15">*</text>
<rect x="85.00" y="677.15" width="60.00" height="1.70" fill="#000"/>
<text x="115.50" y="677.50" font-size="8.8" font-weight="bold" text-anchor="middle" fill="#000" stroke="#000" stroke-width="0.15">**</text>
<rect x="63.00" y="681.65" width="35.80" height="1.70" fill="#000"/>
<text x="79.50" y="682.00" font-size="8.8" font-weight="bold" text-anchor="middle" fill="#000" stroke="#000" stroke-width="0.15">*</text>
<rect x="89.50" y="686.65" width="28.00" height="1.70" fill="#000"/>
<text x="109.30" y="687.00" font-size="8.8" font-weight="bold" text-anchor="middle" fill="#000" stroke="#000" stroke-width="0.15">**</text>
<rect x="62.00" y="692.35" width="18.00" height="1.70" fill="#000"/>
<text x="71.30" y="692.70" font-size="8.8" font-weight="bold" text-anchor="middle" fill="#000" stroke="#000" stroke-width="0.15">**</text>
<rect x="83.80" y="692.35" width="18.20" height="1.70" fill="#000"/>
<text x="90.00" y="692.70" font-size="8.8" font-weight="bold" text-anchor="middle" fill="#000" stroke="#000" stroke-width="0.15">*</text>
<rect x="130.00" y="694.85" width="35.00" height="1.70" fill="#000"/>
<text x="147.50" y="695.20" font-size="8.8" font-weight="bold" text-anchor="middle" fill="#000" stroke="#000" stroke-width="0.15">**</text>
<rect x="98.80" y="700.85" width="41.20" height="1.70" fill="#000"/>
<text x="120.80" y="701.20" font-size="8.8" font-weight="bold" text-anchor="middle" fill="#000" stroke="#000" stroke-width="0.15">*</text>
<rect x="102.00" y="705.85" width="16.80" height="1.70" fill="#000"/>
<text x="112.50" y="706.20" font-size="8.8" font-weight="bold" text-anchor="middle" fill="#000" stroke="#000" stroke-width="0.15">*</text>
<rect x="147.50" y="705.85" width="18.00" height="1.70" fill="#000"/>
<text x="157.00" y="706.20" font-size="8.8" font-weight="bold" text-anchor="middle" fill="#000" stroke="#000" stroke-width="0.15">*</text>
<rect x="224.85" y="716.57" width="1.50" height="0.72" fill="#000"/>
<rect x="221.60" y="715.82" width="8.00" height="1.50" fill="#000"/>
<rect x="218.20" y="717.29" width="14.80" height="69.31" fill="#000"/>
<rect x="224.70" y="786.60" width="1.80" height="4.40" fill="#000"/>
<text transform="translate(227.20,796.90) rotate(-45)" font-size="8.0" font-weight="bold" text-anchor="end" fill="#000" stroke="#000" stroke-width="0.3">MDSC</text>
<rect x="244.73" y="699.51" width="1.50" height="0.57" fill="#000"/>
<rect x="241.48" y="698.76" width="8.00" height="1.50" fill="#000"/>
<rect x="238.08" y="700.08" width="14.80" height="86.52" fill="#000"/>
<rect x="244.58" y="786.60" width="1.80" height="4.40" fill="#000"/>
<text transform="translate(247.08,796.90) rotate(-45)" font-size="8.0" font-weight="bold" text-anchor="end" fill="#000" stroke="#000" stroke-width="0.3">MDSC + a CD40</text>
<rect x="264.61" y="703.91" width="1.50" height="3.35" fill="#000"/>
<rect x="261.36" y="703.16" width="8.00" height="1.50" fill="#000"/>
<rect x="257.96" y="707.25" width="14.80" height="79.35" fill="#000"/>
<rect x="264.46" y="786.60" width="1.80" height="4.40" fill="#000"/>
<text transform="translate(266.96,796.90) rotate(-45)" font-size="8.0" font-weight="bold" text-anchor="end" fill="#000" stroke="#000" stroke-width="0.3">MDSC + MC</text>
<rect x="284.49" y="713.85" width="1.50" height="0.57" fill="#000"/>
<rect x="281.24" y="713.10" width="8.00" height="1.50" fill="#000"/>
<rect x="277.84" y="714.42" width="14.80" height="72.18" fill="#000"/>
<rect x="284.34" y="786.60" width="1.80" height="4.40" fill="#000"/>
<text transform="translate(286.84,796.90) rotate(-45)" font-size="8.0" font-weight="bold" text-anchor="end" fill="#000" stroke="#000" stroke-width="0.3">MDSC + MC CD40L KO</text>
<rect x="304.37" y="712.75" width="1.50" height="1.19" fill="#000"/>
<rect x="301.12" y="712.00" width="8.00" height="1.50" fill="#000"/>
<rect x="297.72" y="713.94" width="14.80" height="72.66" fill="#000"/>
<rect x="304.22" y="786.60" width="1.80" height="4.40" fill="#000"/>
<text transform="translate(306.72,796.90) rotate(-45)" font-size="8.0" font-weight="bold" text-anchor="end" fill="#000" stroke="#000" stroke-width="0.3">MDSC + a CD40L + MC</text>
<rect x="324.25" y="705.34" width="1.50" height="1.91" fill="#000"/>
<rect x="321.00" y="704.59" width="8.00" height="1.50" fill="#000"/>
<rect x="317.60" y="707.25" width="14.80" height="79.35" fill="#000"/>
<rect x="324.10" y="786.60" width="1.80" height="4.40" fill="#000"/>
<text transform="translate(326.60,796.90) rotate(-45)" font-size="8.0" font-weight="bold" text-anchor="end" fill="#000" stroke="#000" stroke-width="0.3">MDSC + IL4 + IFNγ</text>
<rect x="214.35" y="690.00" width="2.50" height="97.85" fill="#000"/>
<rect x="214.35" y="785.35" width="120.55" height="2.50" fill="#000"/>
<rect x="211.20" y="785.65" width="4.40" height="1.90" fill="#000"/>
<text x="210.80" y="789.30" font-size="7.4" font-weight="bold" text-anchor="end" fill="#000">0.0</text>
<rect x="211.20" y="761.75" width="4.40" height="1.90" fill="#000"/>
<text x="210.80" y="765.40" font-size="7.4" font-weight="bold" text-anchor="end" fill="#000">0.5</text>
<rect x="211.20" y="737.85" width="4.40" height="1.90" fill="#000"/>
<text x="210.80" y="741.50" font-size="7.4" font-weight="bold" text-anchor="end" fill="#000">1.0</text>
<rect x="211.20" y="713.95" width="4.40" height="1.90" fill="#000"/>
<text x="210.80" y="717.60" font-size="7.4" font-weight="bold" text-anchor="end" fill="#000">1.5</text>
<rect x="211.20" y="690.05" width="4.40" height="1.90" fill="#000"/>
<text x="210.80" y="693.70" font-size="7.4" font-weight="bold" text-anchor="end" fill="#000">2.0</text>
<text x="274.80" y="661.90" font-size="7.7" font-weight="bold" text-anchor="middle" fill="#000">iNos</text>
<text transform="translate(189.50,738.00) rotate(-90)" font-size="7.8" font-weight="normal" text-anchor="middle" fill="#4a4a4a">Relative expession/FMO</text>
<rect x="225.50" y="674.65" width="102.00" height="1.70" fill="#000"/>
<text x="274.50" y="675.00" font-size="8.8" font-weight="bold" text-anchor="middle" fill="#000" stroke="#000" stroke-width="0.15">*</text>
<rect x="247.50" y="681.15" width="58.80" height="1.70" fill="#000"/>
<text x="277.50" y="681.50" font-size="8.8" font-weight="bold" text-anchor="middle" fill="#000" stroke="#000" stroke-width="0.15">**</text>
<rect x="225.50" y="684.85" width="35.80" height="1.70" fill="#000"/>
<text x="241.80" y="685.20" font-size="8.8" font-weight="bold" text-anchor="middle" fill="#000" stroke="#000" stroke-width="0.15">*</text>
<rect x="247.50" y="690.35" width="36.30" height="1.70" fill="#000"/>
<text x="271.30" y="690.70" font-size="8.8" font-weight="bold" text-anchor="middle" fill="#000" stroke="#000" stroke-width="0.15">**</text>
<rect x="224.20" y="694.85" width="18.30" height="1.70" fill="#000"/>
<text x="233.00" y="695.20" font-size="8.8" font-weight="bold" text-anchor="middle" fill="#000" stroke="#000" stroke-width="0.15">**</text>
<rect x="291.20" y="693.65" width="36.30" height="1.70" fill="#000"/>
<text x="308.00" y="694.00" font-size="8.8" font-weight="bold" text-anchor="middle" fill="#000" stroke="#000" stroke-width="0.15">*</text>
<rect x="264.50" y="698.65" width="18.00" height="1.70" fill="#000"/>
<text x="274.50" y="699.00" font-size="8.8" font-weight="bold" text-anchor="middle" fill="#000" stroke="#000" stroke-width="0.15">*</text>
<rect x="309.20" y="700.85" width="18.30" height="1.70" fill="#000"/>
<text x="318.80" y="701.20" font-size="8.8" font-weight="bold" text-anchor="middle" fill="#000" stroke="#000" stroke-width="0.15">*</text>
<rect x="377.40" y="722.55" width="14.80" height="64.05" fill="#000"/>
<rect x="383.90" y="786.60" width="1.80" height="4.40" fill="#000"/>
<text transform="translate(386.40,796.90) rotate(-45)" font-size="8.0" font-weight="bold" text-anchor="end" fill="#000" stroke="#000" stroke-width="0.3">MDSC</text>
<rect x="403.93" y="702.71" width="1.50" height="2.15" fill="#000"/>
<rect x="400.68" y="701.96" width="8.00" height="1.50" fill="#000"/>
<rect x="397.28" y="704.86" width="14.80" height="81.74" fill="#000"/>
<rect x="403.78" y="786.60" width="1.80" height="4.40" fill="#000"/>
<text transform="translate(406.28,796.90) rotate(-45)" font-size="8.0" font-weight="bold" text-anchor="end" fill="#000" stroke="#000" stroke-width="0.3">MDSC + a CD40</text>
<rect x="423.81" y="712.51" width="1.50" height="0.96" fill="#000"/>
<rect x="420.56" y="711.76" width="8.00" height="1.50" fill="#000"/>
<rect x="417.16" y="713.47" width="14.80" height="73.13" fill="#000"/>
<rect x="423.66" y="786.60" width="1.80" height="4.40" fill="#000"/>
<text transform="translate(426.16,796.90) rotate(-45)" font-size="8.0" font-weight="bold" text-anchor="end" fill="#000" stroke="#000" stroke-width="0.3">MDSC + MC</text>
<rect x="443.69" y="719.58" width="1.50" height="0.57" fill="#000"/>
<rect x="440.44" y="718.83" width="8.00" height="1.50" fill="#000"/>
<rect x="437.04" y="720.16" width="14.80" height="66.44" fill="#000"/>
<rect x="443.54" y="786.60" width="1.80" height="4.40" fill="#000"/>
<text transform="translate(446.04,796.90) rotate(-45)" font-size="8.0" font-weight="bold" text-anchor="end" fill="#000" stroke="#000" stroke-width="0.3">MDSC + MC CD40L KO</text>
<rect x="463.57" y="720.64" width="1.50" height="0.48" fill="#000"/>
<rect x="460.32" y="719.89" width="8.00" height="1.50" fill="#000"/>
<rect x="456.92" y="721.11" width="14.80" height="65.49" fill="#000"/>
<rect x="463.42" y="786.60" width="1.80" height="4.40" fill="#000"/>
<text transform="translate(465.92,796.90) rotate(-45)" font-size="8.0" font-weight="bold" text-anchor="end" fill="#000" stroke="#000" stroke-width="0.3">MDSC + a CD40L + MC</text>
<rect x="483.45" y="705.44" width="1.50" height="0.38" fill="#000"/>
<rect x="480.20" y="704.69" width="8.00" height="1.50" fill="#000"/>
<rect x="476.80" y="705.82" width="14.80" height="80.78" fill="#000"/>
<rect x="483.30" y="786.60" width="1.80" height="4.40" fill="#000"/>
<text transform="translate(485.80,796.90) rotate(-45)" font-size="8.0" font-weight="bold" text-anchor="end" fill="#000" stroke="#000" stroke-width="0.3">MDSC + IL4 + IFNγ</text>
<rect x="373.35" y="690.00" width="2.50" height="97.85" fill="#000"/>
<rect x="373.35" y="785.35" width="120.55" height="2.50" fill="#000"/>
<rect x="370.20" y="785.65" width="4.40" height="1.90" fill="#000"/>
<text x="369.80" y="789.30" font-size="7.4" font-weight="bold" text-anchor="end" fill="#000">0.0</text>
<rect x="370.20" y="761.75" width="4.40" height="1.90" fill="#000"/>
<text x="369.80" y="765.40" font-size="7.4" font-weight="bold" text-anchor="end" fill="#000">0.5</text>
<rect x="370.20" y="737.85" width="4.40" height="1.90" fill="#000"/>
<text x="369.80" y="741.50" font-size="7.4" font-weight="bold" text-anchor="end" fill="#000">1.0</text>
<rect x="370.20" y="713.95" width="4.40" height="1.90" fill="#000"/>
<text x="369.80" y="717.60" font-size="7.4" font-weight="bold" text-anchor="end" fill="#000">1.5</text>
<rect x="370.20" y="690.05" width="4.40" height="1.90" fill="#000"/>
<text x="369.80" y="693.70" font-size="7.4" font-weight="bold" text-anchor="end" fill="#000">2.0</text>
<text x="430.80" y="661.90" font-size="7.7" font-weight="bold" text-anchor="middle" fill="#000">STAT3</text>
<text transform="translate(348.50,738.00) rotate(-90)" font-size="7.8" font-weight="normal" text-anchor="middle" fill="#4a4a4a">Relative expession/FMO</text>
<rect x="385.00" y="672.35" width="101.30" height="1.70" fill="#000"/>
<text x="438.00" y="672.70" font-size="8.8" font-weight="bold" text-anchor="middle" fill="#000" stroke="#000" stroke-width="0.15">****</text>
<rect x="406.20" y="679.15" width="59.60" height="1.70" fill="#000"/>
<text x="435.00" y="679.50" font-size="8.8" font-weight="bold" text-anchor="middle" fill="#000" stroke="#000" stroke-width="0.15">****</text>
<rect x="385.00" y="684.15" width="36.30" height="1.70" fill="#000"/>
<text x="402.00" y="684.50" font-size="8.8" font-weight="bold" text-anchor="middle" fill="#000" stroke="#000" stroke-width="0.15">**</text>
<rect x="407.50" y="689.15" width="35.80" height="1.70" fill="#000"/>
<text x="431.30" y="689.50" font-size="8.8" font-weight="bold" text-anchor="middle" fill="#000" stroke="#000" stroke-width="0.15">****</text>
<rect x="383.00" y="695.65" width="18.30" height="1.70" fill="#000"/>
<text x="392.00" y="696.00" font-size="8.8" font-weight="bold" text-anchor="middle" fill="#000" stroke="#000" stroke-width="0.15">****</text>
<rect x="404.20" y="695.65" width="18.30" height="1.70" fill="#000"/>
<text x="413.00" y="696.00" font-size="8.8" font-weight="bold" text-anchor="middle" fill="#000" stroke="#000" stroke-width="0.15">**</text>
<rect x="451.20" y="694.15" width="35.10" height="1.70" fill="#000"/>
<text x="472.00" y="694.50" font-size="8.8" font-weight="bold" text-anchor="middle" fill="#000" stroke="#000" stroke-width="0.15">****</text>
<rect x="428.00" y="700.35" width="34.50" height="1.70" fill="#000"/>
<text x="442.50" y="700.70" font-size="8.8" font-weight="bold" text-anchor="middle" fill="#000" stroke="#000" stroke-width="0.15">**</text>
<rect x="468.00" y="701.15" width="18.30" height="1.70" fill="#000"/>
<text x="478.00" y="701.50" font-size="8.8" font-weight="bold" text-anchor="middle" fill="#000" stroke="#000" stroke-width="0.15">****</text>
<rect x="423.70" y="708.35" width="18.80" height="1.70" fill="#000"/>
<text x="435.00" y="708.70" font-size="8.8" font-weight="bold" text-anchor="middle" fill="#000" stroke="#000" stroke-width="0.15">**</text>
</svg>
</body></html>
